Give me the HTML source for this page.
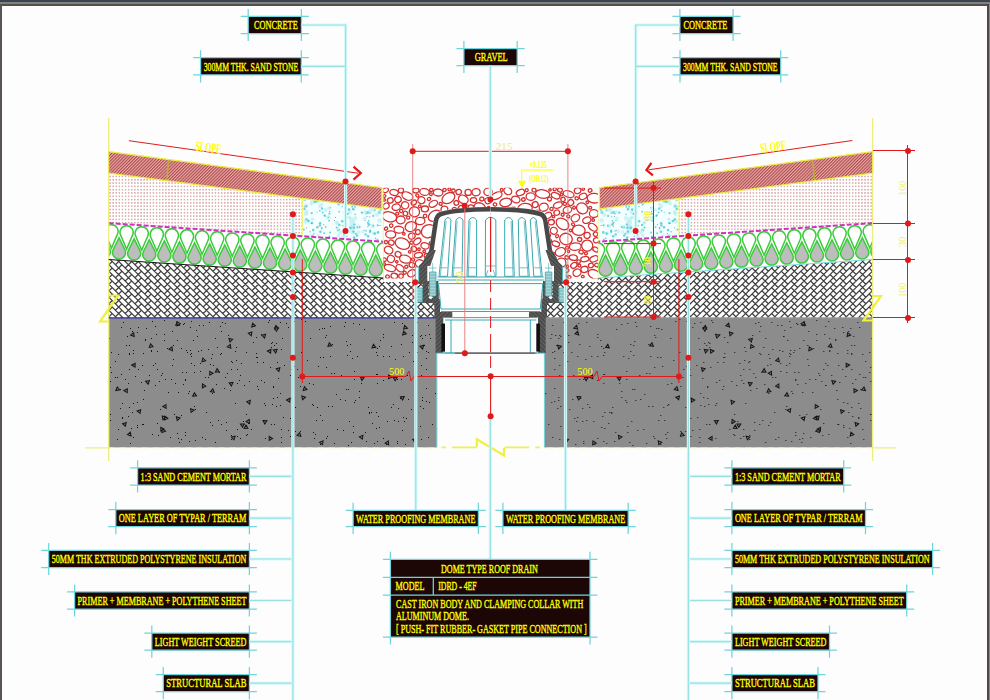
<!DOCTYPE html>
<html><head><meta charset="utf-8"><style>
html,body{margin:0;padding:0;background:#fff;}
svg{display:block;}
text{font-family:"Liberation Serif",serif;}
</style></head><body>
<svg width="990" height="700" viewBox="0 0 990 700">
<defs>
<pattern id="ss" width="2.2" height="2.2" patternUnits="userSpaceOnUse" patternTransform="rotate(-45)"><rect width="2.2" height="2.2" fill="#eeaaaa"/><rect width="2.2" height="1.1" fill="#aa4c4c"/></pattern>
<pattern id="rd" width="3.1" height="3.3" patternUnits="userSpaceOnUse"><rect width="3.1" height="3.3" fill="#fff"/><rect x="1" y="1" width="1.15" height="1.15" fill="#a84040" opacity="0.8"/></pattern>
<pattern id="bk" width="13.8" height="13.8" patternUnits="userSpaceOnUse" patternTransform="rotate(45)"><rect width="13.8" height="13.8" fill="#fff"/><path d="M0 0.5H13.8M0 5.1H13.8M0 9.7H13.8M0.5 0.5V5.1M5.1 0.5V5.1M5.1 5.1V9.7M9.7 5.1V9.7M9.7 9.7V13.8M0.5 9.7V13.8" stroke="#404040" stroke-width="0.9"/></pattern>
<pattern id="dk" width="3" height="3" patternUnits="userSpaceOnUse" patternTransform="rotate(-45)"><rect width="3" height="3" fill="#4a4a4a"/><rect width="3" height="0.8" fill="#6a6a6a"/></pattern>
</defs>
<rect x="0" y="0" width="990" height="700" fill="#fdfdfd"/>
<g id="half"><rect x="108.7" y="317.8" width="328.2" height="129.6" fill="#8c8c8c"/><rect x="215" y="338" width="1" height="1" fill="#151515"/><rect x="322" y="328" width="1" height="1" fill="#151515"/><rect x="284" y="365" width="1" height="1" fill="#151515"/><rect x="128" y="383" width="1" height="1" fill="#151515"/><rect x="121" y="374" width="1" height="1" fill="#151515"/><rect x="132" y="331" width="1" height="1" fill="#151515"/><rect x="248" y="423" width="1" height="1" fill="#151515"/><rect x="150" y="347" width="1" height="1" fill="#151515"/><rect x="314" y="438" width="1" height="1" fill="#151515"/><rect x="297" y="369" width="1" height="1" fill="#151515"/><rect x="428" y="325" width="1" height="1" fill="#151515"/><rect x="389" y="356" width="1" height="1" fill="#151515"/><rect x="156" y="334" width="1" height="1" fill="#151515"/><rect x="210" y="422" width="1" height="1" fill="#151515"/><rect x="168" y="392" width="1" height="1" fill="#151515"/><rect x="318" y="366" width="1" height="1" fill="#151515"/><rect x="288" y="327" width="1" height="1" fill="#151515"/><rect x="129" y="345" width="1" height="1" fill="#151515"/><rect x="331" y="373" width="1" height="1" fill="#151515"/><rect x="212" y="393" width="1" height="1" fill="#151515"/><rect x="257" y="357" width="1" height="1" fill="#151515"/><rect x="368" y="407" width="1" height="1" fill="#151515"/><rect x="189" y="391" width="1" height="1" fill="#151515"/><rect x="281" y="429" width="1" height="1" fill="#151515"/><rect x="347" y="355" width="1" height="1" fill="#151515"/><rect x="429" y="334" width="1" height="1" fill="#151515"/><rect x="246" y="414" width="1" height="1" fill="#151515"/><rect x="159" y="381" width="1" height="1" fill="#151515"/><rect x="122" y="403" width="1" height="1" fill="#151515"/><rect x="359" y="391" width="1" height="1" fill="#151515"/><rect x="395" y="359" width="1" height="1" fill="#151515"/><rect x="336" y="394" width="1" height="1" fill="#151515"/><rect x="298" y="377" width="1" height="1" fill="#151515"/><rect x="383" y="438" width="1" height="1" fill="#151515"/><rect x="264" y="403" width="1" height="1" fill="#151515"/><rect x="129" y="407" width="1" height="1" fill="#151515"/><rect x="320" y="444" width="1" height="1" fill="#151515"/><rect x="377" y="355" width="1" height="1" fill="#151515"/><rect x="235" y="403" width="1" height="1" fill="#151515"/><rect x="117" y="377" width="1" height="1" fill="#151515"/><rect x="164" y="334" width="1" height="1" fill="#151515"/><rect x="128" y="416" width="1" height="1" fill="#151515"/><rect x="151" y="350" width="1" height="1" fill="#151515"/><rect x="237" y="429" width="1" height="1" fill="#151515"/><rect x="135" y="376" width="1" height="1" fill="#151515"/><rect x="288" y="430" width="1" height="1" fill="#151515"/><rect x="376" y="428" width="1" height="1" fill="#151515"/><rect x="200" y="371" width="1" height="1" fill="#151515"/><rect x="226" y="430" width="1" height="1" fill="#151515"/><rect x="422" y="338" width="1" height="1" fill="#151515"/><rect x="167" y="348" width="1" height="1" fill="#151515"/><rect x="185" y="380" width="1" height="1" fill="#151515"/><rect x="301" y="352" width="1" height="1" fill="#151515"/><rect x="111" y="372" width="1" height="1" fill="#151515"/><rect x="230" y="390" width="1" height="1" fill="#151515"/><rect x="420" y="406" width="1" height="1" fill="#151515"/><rect x="277" y="397" width="1" height="1" fill="#151515"/><rect x="330" y="326" width="1" height="1" fill="#151515"/><rect x="403" y="417" width="1" height="1" fill="#151515"/><rect x="394" y="420" width="1" height="1" fill="#151515"/><rect x="237" y="369" width="1" height="1" fill="#151515"/><rect x="143" y="399" width="1" height="1" fill="#151515"/><rect x="130" y="328" width="1" height="1" fill="#151515"/><rect x="177" y="340" width="1" height="1" fill="#151515"/><rect x="220" y="326" width="1" height="1" fill="#151515"/><rect x="109" y="338" width="1" height="1" fill="#151515"/><rect x="142" y="365" width="1" height="1" fill="#151515"/><rect x="118" y="429" width="1" height="1" fill="#151515"/><rect x="310" y="338" width="1" height="1" fill="#151515"/><rect x="191" y="363" width="1" height="1" fill="#151515"/><rect x="228" y="335" width="1" height="1" fill="#151515"/><rect x="386" y="444" width="1" height="1" fill="#151515"/><rect x="261" y="380" width="1" height="1" fill="#151515"/><rect x="137" y="332" width="1" height="1" fill="#151515"/><rect x="221" y="353" width="1" height="1" fill="#151515"/><rect x="380" y="340" width="1" height="1" fill="#151515"/><rect x="117" y="439" width="1" height="1" fill="#151515"/><rect x="282" y="338" width="1" height="1" fill="#151515"/><rect x="286" y="323" width="1" height="1" fill="#151515"/><rect x="281" y="442" width="1" height="1" fill="#151515"/><rect x="391" y="407" width="1" height="1" fill="#151515"/><rect x="194" y="365" width="1" height="1" fill="#151515"/><rect x="164" y="416" width="1" height="1" fill="#151515"/><rect x="283" y="417" width="1" height="1" fill="#151515"/><rect x="217" y="347" width="1" height="1" fill="#151515"/><rect x="374" y="443" width="1" height="1" fill="#151515"/><rect x="387" y="421" width="1" height="1" fill="#151515"/><rect x="376" y="412" width="1" height="1" fill="#151515"/><rect x="183" y="384" width="1" height="1" fill="#151515"/><rect x="225" y="323" width="1" height="1" fill="#151515"/><rect x="118" y="354" width="1" height="1" fill="#151515"/><rect x="194" y="406" width="1" height="1" fill="#151515"/><rect x="421" y="375" width="1" height="1" fill="#151515"/><rect x="415" y="443" width="1" height="1" fill="#151515"/><rect x="421" y="365" width="1" height="1" fill="#151515"/><rect x="181" y="348" width="1" height="1" fill="#151515"/><rect x="173" y="345" width="1" height="1" fill="#151515"/><rect x="313" y="432" width="1" height="1" fill="#151515"/><rect x="383" y="380" width="1" height="1" fill="#151515"/><rect x="322" y="420" width="1" height="1" fill="#151515"/><rect x="137" y="402" width="1" height="1" fill="#151515"/><rect x="406" y="418" width="1" height="1" fill="#151515"/><rect x="354" y="379" width="1" height="1" fill="#151515"/><rect x="167" y="418" width="1" height="1" fill="#151515"/><rect x="218" y="420" width="1" height="1" fill="#151515"/><rect x="426" y="369" width="1" height="1" fill="#151515"/><rect x="240" y="438" width="1" height="1" fill="#151515"/><rect x="346" y="341" width="1" height="1" fill="#151515"/><rect x="151" y="338" width="1" height="1" fill="#151515"/><rect x="404" y="421" width="1" height="1" fill="#151515"/><rect x="157" y="423" width="1" height="1" fill="#151515"/><rect x="429" y="402" width="1" height="1" fill="#151515"/><rect x="224" y="388" width="1" height="1" fill="#151515"/><rect x="152" y="321" width="1" height="1" fill="#151515"/><rect x="426" y="401" width="1" height="1" fill="#151515"/><rect x="281" y="437" width="1" height="1" fill="#151515"/><rect x="251" y="429" width="1" height="1" fill="#151515"/><rect x="379" y="346" width="1" height="1" fill="#151515"/><rect x="191" y="356" width="1" height="1" fill="#151515"/><rect x="188" y="393" width="1" height="1" fill="#151515"/><rect x="194" y="372" width="1" height="1" fill="#151515"/><rect x="152" y="434" width="1" height="1" fill="#151515"/><rect x="225" y="377" width="1" height="1" fill="#151515"/><rect x="299" y="433" width="1" height="1" fill="#151515"/><rect x="246" y="435" width="1" height="1" fill="#151515"/><rect x="273" y="386" width="1" height="1" fill="#151515"/><rect x="280" y="322" width="1" height="1" fill="#151515"/><rect x="253" y="342" width="1" height="1" fill="#151515"/><rect x="110" y="420" width="1" height="1" fill="#151515"/><rect x="165" y="379" width="1" height="1" fill="#151515"/><rect x="346" y="389" width="1" height="1" fill="#151515"/><rect x="216" y="384" width="1" height="1" fill="#151515"/><rect x="290" y="418" width="1" height="1" fill="#151515"/><rect x="144" y="390" width="1" height="1" fill="#151515"/><rect x="190" y="354" width="1" height="1" fill="#151515"/><rect x="361" y="383" width="1" height="1" fill="#151515"/><rect x="292" y="415" width="1" height="1" fill="#151515"/><rect x="407" y="375" width="1" height="1" fill="#151515"/><rect x="309" y="383" width="1" height="1" fill="#151515"/><rect x="276" y="406" width="1" height="1" fill="#151515"/><rect x="257" y="386" width="1" height="1" fill="#151515"/><rect x="265" y="438" width="1" height="1" fill="#151515"/><rect x="337" y="429" width="1" height="1" fill="#151515"/><rect x="417" y="352" width="1" height="1" fill="#151515"/><rect x="292" y="438" width="1" height="1" fill="#151515"/><rect x="383" y="337" width="1" height="1" fill="#151515"/><rect x="149" y="375" width="1" height="1" fill="#151515"/><rect x="133" y="350" width="1" height="1" fill="#151515"/><rect x="133" y="403" width="1" height="1" fill="#151515"/><rect x="365" y="432" width="1" height="1" fill="#151515"/><rect x="160" y="409" width="1" height="1" fill="#151515"/><rect x="325" y="337" width="1" height="1" fill="#151515"/><rect x="397" y="441" width="1" height="1" fill="#151515"/><rect x="181" y="439" width="1" height="1" fill="#151515"/><rect x="239" y="380" width="1" height="1" fill="#151515"/><rect x="432" y="424" width="1" height="1" fill="#151515"/><rect x="162" y="373" width="1" height="1" fill="#151515"/><rect x="277" y="362" width="1" height="1" fill="#151515"/><rect x="173" y="359" width="1" height="1" fill="#151515"/><rect x="345" y="322" width="1" height="1" fill="#151515"/><rect x="290" y="375" width="1" height="1" fill="#151515"/><rect x="115" y="361" width="1" height="1" fill="#151515"/><rect x="313" y="384" width="1" height="1" fill="#151515"/><rect x="130" y="443" width="1" height="1" fill="#151515"/><rect x="366" y="441" width="1" height="1" fill="#151515"/><rect x="143" y="353" width="1" height="1" fill="#151515"/><rect x="122" y="417" width="1" height="1" fill="#151515"/><rect x="197" y="336" width="1" height="1" fill="#151515"/><rect x="247" y="434" width="1" height="1" fill="#151515"/><rect x="376" y="352" width="1" height="1" fill="#151515"/><rect x="158" y="435" width="1" height="1" fill="#151515"/><rect x="295" y="407" width="1" height="1" fill="#151515"/><rect x="138" y="327" width="1" height="1" fill="#151515"/><rect x="334" y="373" width="1" height="1" fill="#151515"/><rect x="133" y="437" width="1" height="1" fill="#151515"/><rect x="316" y="420" width="1" height="1" fill="#151515"/><rect x="137" y="427" width="1" height="1" fill="#151515"/><rect x="131" y="428" width="1" height="1" fill="#151515"/><rect x="257" y="362" width="1" height="1" fill="#151515"/><rect x="290" y="436" width="1" height="1" fill="#151515"/><rect x="197" y="336" width="1" height="1" fill="#151515"/><rect x="281" y="349" width="1" height="1" fill="#151515"/><rect x="145" y="340" width="1" height="1" fill="#151515"/><rect x="126" y="345" width="1" height="1" fill="#151515"/><rect x="211" y="358" width="1" height="1" fill="#151515"/><rect x="357" y="356" width="1" height="1" fill="#151515"/><rect x="272" y="342" width="1" height="1" fill="#151515"/><rect x="222" y="322" width="1" height="1" fill="#151515"/><rect x="191" y="321" width="1" height="1" fill="#151515"/><rect x="348" y="389" width="1" height="1" fill="#151515"/><rect x="171" y="379" width="1" height="1" fill="#151515"/><rect x="414" y="333" width="1" height="1" fill="#151515"/><rect x="376" y="374" width="1" height="1" fill="#151515"/><rect x="271" y="424" width="1" height="1" fill="#151515"/><rect x="237" y="383" width="1" height="1" fill="#151515"/><rect x="334" y="443" width="1" height="1" fill="#151515"/><rect x="221" y="424" width="1" height="1" fill="#151515"/><rect x="340" y="399" width="1" height="1" fill="#151515"/><rect x="241" y="363" width="1" height="1" fill="#151515"/><rect x="127" y="336" width="1" height="1" fill="#151515"/><rect x="132" y="412" width="1" height="1" fill="#151515"/><rect x="193" y="340" width="1" height="1" fill="#151515"/><rect x="137" y="425" width="1" height="1" fill="#151515"/><rect x="393" y="404" width="1" height="1" fill="#151515"/><rect x="201" y="350" width="1" height="1" fill="#151515"/><rect x="205" y="377" width="1" height="1" fill="#151515"/><rect x="161" y="375" width="1" height="1" fill="#151515"/><rect x="195" y="440" width="1" height="1" fill="#151515"/><rect x="426" y="388" width="1" height="1" fill="#151515"/><rect x="189" y="441" width="1" height="1" fill="#151515"/><rect x="210" y="364" width="1" height="1" fill="#151515"/><rect x="110" y="367" width="1" height="1" fill="#151515"/><rect x="264" y="382" width="1" height="1" fill="#151515"/><rect x="175" y="383" width="1" height="1" fill="#151515"/><rect x="111" y="352" width="1" height="1" fill="#151515"/><rect x="138" y="369" width="1" height="1" fill="#151515"/><rect x="123" y="322" width="1" height="1" fill="#151515"/><rect x="208" y="349" width="1" height="1" fill="#151515"/><rect x="300" y="386" width="1" height="1" fill="#151515"/><rect x="354" y="402" width="1" height="1" fill="#151515"/><rect x="343" y="430" width="1" height="1" fill="#151515"/><rect x="236" y="360" width="1" height="1" fill="#151515"/><rect x="430" y="338" width="1" height="1" fill="#151515"/><rect x="345" y="400" width="1" height="1" fill="#151515"/><rect x="123" y="424" width="1" height="1" fill="#151515"/><rect x="400" y="398" width="1" height="1" fill="#151515"/><rect x="349" y="421" width="1" height="1" fill="#151515"/><rect x="155" y="385" width="1" height="1" fill="#151515"/><rect x="274" y="424" width="1" height="1" fill="#151515"/><rect x="372" y="423" width="1" height="1" fill="#151515"/><rect x="300" y="431" width="1" height="1" fill="#151515"/><rect x="332" y="406" width="1" height="1" fill="#151515"/><rect x="184" y="323" width="1" height="1" fill="#151515"/><rect x="153" y="365" width="1" height="1" fill="#151515"/><rect x="143" y="424" width="1" height="1" fill="#151515"/><rect x="291" y="398" width="1" height="1" fill="#151515"/><rect x="313" y="405" width="1" height="1" fill="#151515"/><rect x="269" y="320" width="1" height="1" fill="#151515"/><rect x="369" y="413" width="1" height="1" fill="#151515"/><rect x="273" y="387" width="1" height="1" fill="#151515"/><rect x="324" y="328" width="1" height="1" fill="#151515"/><rect x="350" y="351" width="1" height="1" fill="#151515"/><rect x="133" y="353" width="1" height="1" fill="#151515"/><rect x="347" y="345" width="1" height="1" fill="#151515"/><rect x="351" y="442" width="1" height="1" fill="#151515"/><rect x="270" y="367" width="1" height="1" fill="#151515"/><rect x="265" y="405" width="1" height="1" fill="#151515"/><rect x="359" y="397" width="1" height="1" fill="#151515"/><rect x="319" y="329" width="1" height="1" fill="#151515"/><rect x="157" y="351" width="1" height="1" fill="#151515"/><rect x="352" y="358" width="1" height="1" fill="#151515"/><rect x="294" y="321" width="1" height="1" fill="#151515"/><rect x="129" y="353" width="1" height="1" fill="#151515"/><rect x="328" y="406" width="1" height="1" fill="#151515"/><rect x="330" y="356" width="1" height="1" fill="#151515"/><rect x="278" y="378" width="1" height="1" fill="#151515"/><rect x="261" y="334" width="1" height="1" fill="#151515"/><rect x="401" y="344" width="1" height="1" fill="#151515"/><rect x="428" y="437" width="1" height="1" fill="#151515"/><rect x="115" y="377" width="1" height="1" fill="#151515"/><rect x="377" y="441" width="1" height="1" fill="#151515"/><rect x="256" y="353" width="1" height="1" fill="#151515"/><rect x="178" y="438" width="1" height="1" fill="#151515"/><rect x="178" y="392" width="1" height="1" fill="#151515"/><rect x="155" y="385" width="1" height="1" fill="#151515"/><rect x="420" y="336" width="1" height="1" fill="#151515"/><rect x="377" y="383" width="1" height="1" fill="#151515"/><rect x="398" y="408" width="1" height="1" fill="#151515"/><rect x="185" y="432" width="1" height="1" fill="#151515"/><rect x="268" y="322" width="1" height="1" fill="#151515"/><rect x="110" y="381" width="1" height="1" fill="#151515"/><rect x="256" y="357" width="1" height="1" fill="#151515"/><rect x="155" y="363" width="1" height="1" fill="#151515"/><rect x="212" y="425" width="1" height="1" fill="#151515"/><rect x="110" y="414" width="1" height="1" fill="#151515"/><rect x="383" y="334" width="1" height="1" fill="#151515"/><rect x="411" y="409" width="1" height="1" fill="#151515"/><rect x="403" y="356" width="1" height="1" fill="#151515"/><rect x="231" y="369" width="1" height="1" fill="#151515"/><rect x="435" y="393" width="1" height="1" fill="#151515"/><rect x="227" y="373" width="1" height="1" fill="#151515"/><rect x="199" y="325" width="1" height="1" fill="#151515"/><rect x="142" y="424" width="1" height="1" fill="#151515"/><rect x="202" y="437" width="1" height="1" fill="#151515"/><rect x="191" y="353" width="1" height="1" fill="#151515"/><rect x="276" y="343" width="1" height="1" fill="#151515"/><rect x="231" y="439" width="1" height="1" fill="#151515"/><rect x="398" y="421" width="1" height="1" fill="#151515"/><rect x="315" y="434" width="1" height="1" fill="#151515"/><rect x="416" y="388" width="1" height="1" fill="#151515"/><rect x="344" y="326" width="1" height="1" fill="#151515"/><rect x="348" y="376" width="1" height="1" fill="#151515"/><rect x="355" y="400" width="1" height="1" fill="#151515"/><rect x="203" y="325" width="1" height="1" fill="#151515"/><rect x="412" y="335" width="1" height="1" fill="#151515"/><rect x="263" y="362" width="1" height="1" fill="#151515"/><rect x="206" y="412" width="1" height="1" fill="#151515"/><rect x="428" y="352" width="1" height="1" fill="#151515"/><rect x="323" y="357" width="1" height="1" fill="#151515"/><rect x="291" y="369" width="1" height="1" fill="#151515"/><rect x="164" y="340" width="1" height="1" fill="#151515"/><rect x="177" y="433" width="1" height="1" fill="#151515"/><rect x="271" y="347" width="1" height="1" fill="#151515"/><rect x="405" y="444" width="1" height="1" fill="#151515"/><rect x="256" y="337" width="1" height="1" fill="#151515"/><rect x="172" y="331" width="1" height="1" fill="#151515"/><rect x="221" y="331" width="1" height="1" fill="#151515"/><rect x="187" y="352" width="1" height="1" fill="#151515"/><rect x="295" y="431" width="1" height="1" fill="#151515"/><rect x="354" y="371" width="1" height="1" fill="#151515"/><rect x="244" y="385" width="1" height="1" fill="#151515"/><rect x="232" y="362" width="1" height="1" fill="#151515"/><rect x="129" y="354" width="1" height="1" fill="#151515"/><rect x="425" y="335" width="1" height="1" fill="#151515"/><rect x="273" y="398" width="1" height="1" fill="#151515"/><rect x="391" y="346" width="1" height="1" fill="#151515"/><rect x="198" y="351" width="1" height="1" fill="#151515"/><rect x="240" y="375" width="1" height="1" fill="#151515"/><rect x="420" y="426" width="1" height="1" fill="#151515"/><rect x="394" y="322" width="1" height="1" fill="#151515"/><rect x="120" y="408" width="1" height="1" fill="#151515"/><rect x="401" y="379" width="1" height="1" fill="#151515"/><rect x="301" y="319" width="1" height="1" fill="#151515"/><rect x="237" y="436" width="1" height="1" fill="#151515"/><rect x="379" y="427" width="1" height="1" fill="#151515"/><rect x="426" y="351" width="1" height="1" fill="#151515"/><rect x="145" y="339" width="1" height="1" fill="#151515"/><rect x="280" y="405" width="1" height="1" fill="#151515"/><rect x="416" y="410" width="1" height="1" fill="#151515"/><rect x="320" y="415" width="1" height="1" fill="#151515"/><rect x="258" y="389" width="1" height="1" fill="#151515"/><rect x="122" y="418" width="1" height="1" fill="#151515"/><rect x="185" y="435" width="1" height="1" fill="#151515"/><rect x="320" y="357" width="1" height="1" fill="#151515"/><rect x="151" y="351" width="1" height="1" fill="#151515"/><rect x="317" y="407" width="1" height="1" fill="#151515"/><rect x="146" y="328" width="1" height="1" fill="#151515"/><rect x="280" y="393" width="1" height="1" fill="#151515"/><rect x="236" y="347" width="1" height="1" fill="#151515"/><rect x="305" y="321" width="1" height="1" fill="#151515"/><rect x="208" y="377" width="1" height="1" fill="#151515"/><rect x="422" y="400" width="1" height="1" fill="#151515"/><rect x="397" y="379" width="1" height="1" fill="#151515"/><rect x="186" y="350" width="1" height="1" fill="#151515"/><rect x="423" y="408" width="1" height="1" fill="#151515"/><rect x="209" y="322" width="1" height="1" fill="#151515"/><rect x="272" y="404" width="1" height="1" fill="#151515"/><rect x="246" y="352" width="1" height="1" fill="#151515"/><rect x="327" y="436" width="1" height="1" fill="#151515"/><rect x="183" y="324" width="1" height="1" fill="#151515"/><rect x="219" y="372" width="1" height="1" fill="#151515"/><rect x="332" y="344" width="1" height="1" fill="#151515"/><rect x="369" y="412" width="1" height="1" fill="#151515"/><rect x="274" y="345" width="1" height="1" fill="#151515"/><rect x="426" y="358" width="1" height="1" fill="#151515"/><rect x="377" y="348" width="1" height="1" fill="#151515"/><rect x="181" y="415" width="1" height="1" fill="#151515"/><rect x="205" y="439" width="1" height="1" fill="#151515"/><rect x="271" y="343" width="1" height="1" fill="#151515"/><rect x="182" y="372" width="1" height="1" fill="#151515"/><rect x="326" y="438" width="1" height="1" fill="#151515"/><rect x="157" y="369" width="1" height="1" fill="#151515"/><rect x="179" y="442" width="1" height="1" fill="#151515"/><rect x="155" y="326" width="1" height="1" fill="#151515"/><rect x="129" y="369" width="1" height="1" fill="#151515"/><rect x="402" y="430" width="1" height="1" fill="#151515"/><rect x="348" y="445" width="1" height="1" fill="#151515"/><rect x="413" y="361" width="1" height="1" fill="#151515"/><rect x="170" y="437" width="1" height="1" fill="#151515"/><rect x="353" y="323" width="1" height="1" fill="#151515"/><rect x="326" y="367" width="1" height="1" fill="#151515"/><rect x="231" y="361" width="1" height="1" fill="#151515"/><rect x="164" y="320" width="1" height="1" fill="#151515"/><rect x="200" y="363" width="1" height="1" fill="#151515"/><rect x="421" y="335" width="1" height="1" fill="#151515"/><rect x="424" y="345" width="1" height="1" fill="#151515"/><rect x="226" y="422" width="1" height="1" fill="#151515"/><rect x="377" y="374" width="1" height="1" fill="#151515"/><rect x="125" y="379" width="1" height="1" fill="#151515"/><rect x="231" y="435" width="1" height="1" fill="#151515"/><rect x="172" y="365" width="1" height="1" fill="#151515"/><rect x="402" y="323" width="1" height="1" fill="#151515"/><rect x="243" y="421" width="1" height="1" fill="#151515"/><rect x="359" y="324" width="1" height="1" fill="#151515"/><rect x="121" y="327" width="1" height="1" fill="#151515"/><rect x="409" y="352" width="1" height="1" fill="#151515"/><rect x="353" y="432" width="1" height="1" fill="#151515"/><rect x="220" y="354" width="1" height="1" fill="#151515"/><rect x="422" y="397" width="1" height="1" fill="#151515"/><rect x="195" y="409" width="1" height="1" fill="#151515"/><rect x="212" y="354" width="1" height="1" fill="#151515"/><rect x="110" y="414" width="1" height="1" fill="#151515"/><rect x="408" y="399" width="1" height="1" fill="#151515"/><rect x="417" y="322" width="1" height="1" fill="#151515"/><rect x="185" y="379" width="1" height="1" fill="#151515"/><rect x="421" y="439" width="1" height="1" fill="#151515"/><rect x="235" y="351" width="1" height="1" fill="#151515"/><rect x="249" y="381" width="1" height="1" fill="#151515"/><rect x="412" y="342" width="1" height="1" fill="#151515"/><rect x="371" y="412" width="1" height="1" fill="#151515"/><rect x="378" y="416" width="1" height="1" fill="#151515"/><rect x="307" y="360" width="1" height="1" fill="#151515"/><rect x="213" y="365" width="1" height="1" fill="#151515"/><rect x="364" y="329" width="1" height="1" fill="#151515"/><rect x="174" y="414" width="1" height="1" fill="#151515"/><rect x="190" y="327" width="1" height="1" fill="#151515"/><rect x="120" y="389" width="1" height="1" fill="#151515"/><rect x="215" y="442" width="1" height="1" fill="#151515"/><rect x="397" y="443" width="1" height="1" fill="#151515"/><rect x="196" y="330" width="1" height="1" fill="#151515"/><rect x="141" y="382" width="1" height="1" fill="#151515"/><rect x="341" y="375" width="1" height="1" fill="#151515"/><rect x="186" y="372" width="1" height="1" fill="#151515"/><rect x="312" y="404" width="1" height="1" fill="#151515"/><rect x="353" y="426" width="1" height="1" fill="#151515"/><rect x="326" y="335" width="1" height="1" fill="#151515"/><rect x="383" y="356" width="1" height="1" fill="#151515"/><rect x="294" y="366" width="1" height="1" fill="#151515"/><rect x="350" y="344" width="1" height="1" fill="#151515"/><rect x="190" y="350" width="1" height="1" fill="#151515"/><path d="M161.8 427.4l1.9 3.4h-3.8z" fill="#7a7a7a" stroke="#151515" stroke-width="1" transform="rotate(208 161.8 429.4)"/><path d="M217.2 368.6l1.9 3.4h-3.8z" fill="#7a7a7a" stroke="#151515" stroke-width="1" transform="rotate(357 217.2 370.6)"/><path d="M275.1 348.7l1.9 3.4h-3.8z" fill="#7a7a7a" stroke="#151515" stroke-width="1" transform="rotate(291 275.1 350.7)"/><path d="M321.9 440.3l1.9 3.4h-3.8z" fill="#7a7a7a" stroke="#151515" stroke-width="1" transform="rotate(37 321.9 442.3)"/><path d="M264.7 419.6l1.9 3.4h-3.8z" fill="#7a7a7a" stroke="#151515" stroke-width="1" transform="rotate(303 264.7 421.6)"/><path d="M405.5 325.7l1.9 3.4h-3.8z" fill="#7a7a7a" stroke="#151515" stroke-width="1" transform="rotate(106 405.5 327.7)"/><path d="M150.9 343.7l1.9 3.4h-3.8z" fill="#7a7a7a" stroke="#151515" stroke-width="1" transform="rotate(350 150.9 345.7)"/><path d="M299.4 433.0l1.9 3.4h-3.8z" fill="#7a7a7a" stroke="#151515" stroke-width="1" transform="rotate(134 299.4 435.0)"/><path d="M390.0 375.0l1.9 3.4h-3.8z" fill="#7a7a7a" stroke="#151515" stroke-width="1" transform="rotate(94 390.0 377.0)"/><path d="M361.7 434.9l1.9 3.4h-3.8z" fill="#7a7a7a" stroke="#151515" stroke-width="1" transform="rotate(38 361.7 436.9)"/><path d="M303.6 395.6l1.9 3.4h-3.8z" fill="#7a7a7a" stroke="#151515" stroke-width="1" transform="rotate(78 303.6 397.6)"/><path d="M230.8 337.8l1.9 3.4h-3.8z" fill="#7a7a7a" stroke="#151515" stroke-width="1" transform="rotate(73 230.8 339.8)"/><path d="M194.3 393.1l1.9 3.4h-3.8z" fill="#7a7a7a" stroke="#151515" stroke-width="1" transform="rotate(235 194.3 395.1)"/><path d="M177.8 322.2l1.9 3.4h-3.8z" fill="#7a7a7a" stroke="#151515" stroke-width="1" transform="rotate(118 177.8 324.2)"/><path d="M329.9 343.1l1.9 3.4h-3.8z" fill="#7a7a7a" stroke="#151515" stroke-width="1" transform="rotate(112 329.9 345.1)"/><path d="M177.8 416.7l1.9 3.4h-3.8z" fill="#7a7a7a" stroke="#151515" stroke-width="1" transform="rotate(197 177.8 418.7)"/><path d="M133.0 333.0l1.9 3.4h-3.8z" fill="#7a7a7a" stroke="#151515" stroke-width="1" transform="rotate(142 133.0 335.0)"/><path d="M288.9 397.9l1.9 3.4h-3.8z" fill="#7a7a7a" stroke="#151515" stroke-width="1" transform="rotate(33 288.9 399.9)"/><path d="M165.1 404.7l1.9 3.4h-3.8z" fill="#7a7a7a" stroke="#151515" stroke-width="1" transform="rotate(148 165.1 406.7)"/><path d="M203.4 357.9l1.9 3.4h-3.8z" fill="#7a7a7a" stroke="#151515" stroke-width="1" transform="rotate(343 203.4 359.9)"/><path d="M212.7 389.1l1.9 3.4h-3.8z" fill="#7a7a7a" stroke="#151515" stroke-width="1" transform="rotate(129 212.7 391.1)"/><path d="M246.0 425.0l1.9 3.4h-3.8z" fill="#7a7a7a" stroke="#151515" stroke-width="1" transform="rotate(359 246.0 427.0)"/><path d="M229.2 344.6l1.9 3.4h-3.8z" fill="#7a7a7a" stroke="#151515" stroke-width="1" transform="rotate(262 229.2 346.6)"/><path d="M177.9 321.5l1.9 3.4h-3.8z" fill="#7a7a7a" stroke="#151515" stroke-width="1" transform="rotate(325 177.9 323.5)"/><path d="M248.4 419.7l1.9 3.4h-3.8z" fill="#7a7a7a" stroke="#151515" stroke-width="1" transform="rotate(146 248.4 421.7)"/><path d="M395.4 376.4l1.9 3.4h-3.8z" fill="#7a7a7a" stroke="#151515" stroke-width="1" transform="rotate(59 395.4 378.4)"/><path d="M117.4 387.3l1.9 3.4h-3.8z" fill="#7a7a7a" stroke="#151515" stroke-width="1" transform="rotate(231 117.4 389.3)"/><path d="M404.0 331.5l1.9 3.4h-3.8z" fill="#7a7a7a" stroke="#151515" stroke-width="1" transform="rotate(224 404.0 333.5)"/><path d="M231.4 381.6l1.9 3.4h-3.8z" fill="#7a7a7a" stroke="#151515" stroke-width="1" transform="rotate(53 231.4 383.6)"/><path d="M203.4 383.7l1.9 3.4h-3.8z" fill="#7a7a7a" stroke="#151515" stroke-width="1" transform="rotate(333 203.4 385.7)"/><path d="M147.5 380.0l1.9 3.4h-3.8z" fill="#7a7a7a" stroke="#151515" stroke-width="1" transform="rotate(290 147.5 382.0)"/><path d="M422.3 344.6l1.9 3.4h-3.8z" fill="#7a7a7a" stroke="#151515" stroke-width="1" transform="rotate(46 422.3 346.6)"/><path d="M414.7 438.5l1.9 3.4h-3.8z" fill="#7a7a7a" stroke="#151515" stroke-width="1" transform="rotate(174 414.7 440.5)"/><path d="M129.8 432.5l1.9 3.4h-3.8z" fill="#7a7a7a" stroke="#151515" stroke-width="1" transform="rotate(140 129.8 434.5)"/><path d="M402.2 395.6l1.9 3.4h-3.8z" fill="#7a7a7a" stroke="#151515" stroke-width="1" transform="rotate(297 402.2 397.6)"/><path d="M164.0 415.6l1.9 3.4h-3.8z" fill="#7a7a7a" stroke="#151515" stroke-width="1" transform="rotate(80 164.0 417.6)"/><path d="M242.2 422.9l1.9 3.4h-3.8z" fill="#7a7a7a" stroke="#151515" stroke-width="1" transform="rotate(299 242.2 424.9)"/><path d="M171.3 347.1l1.9 3.4h-3.8z" fill="#7a7a7a" stroke="#151515" stroke-width="1" transform="rotate(144 171.3 349.1)"/><path d="M278.5 367.1l1.9 3.4h-3.8z" fill="#7a7a7a" stroke="#151515" stroke-width="1" transform="rotate(44 278.5 369.1)"/><path d="M191.8 408.2l1.9 3.4h-3.8z" fill="#7a7a7a" stroke="#151515" stroke-width="1" transform="rotate(323 191.8 410.2)"/><path d="M125.9 388.6l1.9 3.4h-3.8z" fill="#7a7a7a" stroke="#151515" stroke-width="1" transform="rotate(273 125.9 390.6)"/><path d="M124.9 421.9l1.9 3.4h-3.8z" fill="#7a7a7a" stroke="#151515" stroke-width="1" transform="rotate(42 124.9 423.9)"/><path d="M304.7 387.1l1.9 3.4h-3.8z" fill="#7a7a7a" stroke="#151515" stroke-width="1" transform="rotate(226 304.7 389.1)"/><path d="M210.7 371.5l1.9 3.4h-3.8z" fill="#7a7a7a" stroke="#151515" stroke-width="1" transform="rotate(210 210.7 373.5)"/><path d="M249.0 400.3l1.9 3.4h-3.8z" fill="#7a7a7a" stroke="#151515" stroke-width="1" transform="rotate(161 249.0 402.3)"/><path d="M253.1 323.6l1.9 3.4h-3.8z" fill="#7a7a7a" stroke="#151515" stroke-width="1" transform="rotate(223 253.1 325.6)"/><path d="M269.4 349.2l1.9 3.4h-3.8z" fill="#7a7a7a" stroke="#151515" stroke-width="1" transform="rotate(275 269.4 351.2)"/><path d="M362.4 376.1l1.9 3.4h-3.8z" fill="#7a7a7a" stroke="#151515" stroke-width="1" transform="rotate(65 362.4 378.1)"/><path d="M264.2 333.7l1.9 3.4h-3.8z" fill="#7a7a7a" stroke="#151515" stroke-width="1" transform="rotate(46 264.2 335.7)"/><path d="M250.6 331.9l1.9 3.4h-3.8z" fill="#7a7a7a" stroke="#151515" stroke-width="1" transform="rotate(159 250.6 333.9)"/><path d="M276.1 325.7l1.9 3.4h-3.8z" fill="#7a7a7a" stroke="#151515" stroke-width="1" transform="rotate(229 276.1 327.7)"/><path d="M139.0 409.3l1.9 3.4h-3.8z" fill="#7a7a7a" stroke="#151515" stroke-width="1" transform="rotate(280 139.0 411.3)"/><path d="M276.5 327.3l1.9 3.4h-3.8z" fill="#7a7a7a" stroke="#151515" stroke-width="1" transform="rotate(181 276.5 329.3)"/><path d="M233.7 435.5l1.9 3.4h-3.8z" fill="#7a7a7a" stroke="#151515" stroke-width="1" transform="rotate(49 233.7 437.5)"/><path d="M387.1 440.9l1.9 3.4h-3.8z" fill="#7a7a7a" stroke="#151515" stroke-width="1" transform="rotate(264 387.1 442.9)"/><path d="M373.7 344.2l1.9 3.4h-3.8z" fill="#7a7a7a" stroke="#151515" stroke-width="1" transform="rotate(353 373.7 346.2)"/><path d="M270.2 436.2l1.9 3.4h-3.8z" fill="#7a7a7a" stroke="#151515" stroke-width="1" transform="rotate(330 270.2 438.2)"/><path d="M165.6 415.9l1.9 3.4h-3.8z" fill="#7a7a7a" stroke="#151515" stroke-width="1" transform="rotate(335 165.6 417.9)"/><path d="M133.7 363.1l1.9 3.4h-3.8z" fill="#7a7a7a" stroke="#151515" stroke-width="1" transform="rotate(272 133.7 365.1)"/><path d="M163.5 428.9l1.9 3.4h-3.8z" fill="#7a7a7a" stroke="#151515" stroke-width="1" transform="rotate(99 163.5 430.9)"/><clipPath id="bkc"><path d="M108.7 259.5L383.4 278.0L383.4 282H437V317.8H108.7Z"/></clipPath><path d="M108.7 259.5L383.4 278.0L383.4 282H437V317.8H108.7Z" fill="#fff"/><path d="M40.70 255.0L105.70 320.0M47.20 255.0L112.20 320.0M53.70 255.0L118.70 320.0M60.20 255.0L125.20 320.0M66.70 255.0L131.70 320.0M73.20 255.0L138.20 320.0M79.70 255.0L144.70 320.0M86.20 255.0L151.20 320.0M92.70 255.0L157.70 320.0M99.20 255.0L164.20 320.0M105.70 255.0L170.70 320.0M112.20 255.0L177.20 320.0M118.70 255.0L183.70 320.0M125.20 255.0L190.20 320.0M131.70 255.0L196.70 320.0M138.20 255.0L203.20 320.0M144.70 255.0L209.70 320.0M151.20 255.0L216.20 320.0M157.70 255.0L222.70 320.0M164.20 255.0L229.20 320.0M170.70 255.0L235.70 320.0M177.20 255.0L242.20 320.0M183.70 255.0L248.70 320.0M190.20 255.0L255.20 320.0M196.70 255.0L261.70 320.0M203.20 255.0L268.20 320.0M209.70 255.0L274.70 320.0M216.20 255.0L281.20 320.0M222.70 255.0L287.70 320.0M229.20 255.0L294.20 320.0M235.70 255.0L300.70 320.0M242.20 255.0L307.20 320.0M248.70 255.0L313.70 320.0M255.20 255.0L320.20 320.0M261.70 255.0L326.70 320.0M268.20 255.0L333.20 320.0M274.70 255.0L339.70 320.0M281.20 255.0L346.20 320.0M287.70 255.0L352.70 320.0M294.20 255.0L359.20 320.0M300.70 255.0L365.70 320.0M307.20 255.0L372.20 320.0M313.70 255.0L378.70 320.0M320.20 255.0L385.20 320.0M326.70 255.0L391.70 320.0M333.20 255.0L398.20 320.0M339.70 255.0L404.70 320.0M346.20 255.0L411.20 320.0M352.70 255.0L417.70 320.0M359.20 255.0L424.20 320.0M365.70 255.0L430.70 320.0M372.20 255.0L437.20 320.0M378.70 255.0L443.70 320.0M385.20 255.0L450.20 320.0M391.70 255.0L456.70 320.0M398.20 255.0L463.20 320.0M404.70 255.0L469.70 320.0M411.20 255.0L476.20 320.0M417.70 255.0L482.70 320.0M424.20 255.0L489.20 320.0M430.70 255.0L495.70 320.0M437.20 255.0L502.20 320.0M76.45 284.25L79.70 281.00M79.70 281.00L82.95 277.75M86.20 274.50L89.45 271.25M89.45 271.25L92.70 268.00M95.95 264.75L99.20 261.50M99.20 261.50L102.45 258.25M105.70 255.00L108.95 251.75M76.45 290.75L79.70 287.50M79.70 287.50L82.95 284.25M86.20 281.00L89.45 277.75M89.45 277.75L92.70 274.50M95.95 271.25L99.20 268.00M99.20 268.00L102.45 264.75M105.70 261.50L108.95 258.25M108.95 258.25L112.20 255.00M79.70 294.00L82.95 290.75M86.20 287.50L89.45 284.25M89.45 284.25L92.70 281.00M95.95 277.75L99.20 274.50M99.20 274.50L102.45 271.25M105.70 268.00L108.95 264.75M108.95 264.75L112.20 261.50M115.45 258.25L118.70 255.00M118.70 255.00L121.95 251.75M86.20 294.00L89.45 290.75M89.45 290.75L92.70 287.50M95.95 284.25L99.20 281.00M99.20 281.00L102.45 277.75M105.70 274.50L108.95 271.25M108.95 271.25L112.20 268.00M115.45 264.75L118.70 261.50M118.70 261.50L121.95 258.25M125.20 255.00L128.45 251.75M86.20 300.50L89.45 297.25M89.45 297.25L92.70 294.00M95.95 290.75L99.20 287.50M99.20 287.50L102.45 284.25M105.70 281.00L108.95 277.75M108.95 277.75L112.20 274.50M115.45 271.25L118.70 268.00M118.70 268.00L121.95 264.75M125.20 261.50L128.45 258.25M128.45 258.25L131.70 255.00M89.45 303.75L92.70 300.50M95.95 297.25L99.20 294.00M99.20 294.00L102.45 290.75M105.70 287.50L108.95 284.25M108.95 284.25L112.20 281.00M115.45 277.75L118.70 274.50M118.70 274.50L121.95 271.25M125.20 268.00L128.45 264.75M128.45 264.75L131.70 261.50M134.95 258.25L138.20 255.00M138.20 255.00L141.45 251.75M95.95 303.75L99.20 300.50M99.20 300.50L102.45 297.25M105.70 294.00L108.95 290.75M108.95 290.75L112.20 287.50M115.45 284.25L118.70 281.00M118.70 281.00L121.95 277.75M125.20 274.50L128.45 271.25M128.45 271.25L131.70 268.00M134.95 264.75L138.20 261.50M138.20 261.50L141.45 258.25M144.70 255.00L147.95 251.75M95.95 310.25L99.20 307.00M99.20 307.00L102.45 303.75M105.70 300.50L108.95 297.25M108.95 297.25L112.20 294.00M115.45 290.75L118.70 287.50M118.70 287.50L121.95 284.25M125.20 281.00L128.45 277.75M128.45 277.75L131.70 274.50M134.95 271.25L138.20 268.00M138.20 268.00L141.45 264.75M144.70 261.50L147.95 258.25M147.95 258.25L151.20 255.00M99.20 313.50L102.45 310.25M105.70 307.00L108.95 303.75M108.95 303.75L112.20 300.50M115.45 297.25L118.70 294.00M118.70 294.00L121.95 290.75M125.20 287.50L128.45 284.25M128.45 284.25L131.70 281.00M134.95 277.75L138.20 274.50M138.20 274.50L141.45 271.25M144.70 268.00L147.95 264.75M147.95 264.75L151.20 261.50M154.45 258.25L157.70 255.00M157.70 255.00L160.95 251.75M105.70 313.50L108.95 310.25M108.95 310.25L112.20 307.00M115.45 303.75L118.70 300.50M118.70 300.50L121.95 297.25M125.20 294.00L128.45 290.75M128.45 290.75L131.70 287.50M134.95 284.25L138.20 281.00M138.20 281.00L141.45 277.75M144.70 274.50L147.95 271.25M147.95 271.25L151.20 268.00M154.45 264.75L157.70 261.50M157.70 261.50L160.95 258.25M164.20 255.00L167.45 251.75M105.70 320.00L108.95 316.75M108.95 316.75L112.20 313.50M115.45 310.25L118.70 307.00M118.70 307.00L121.95 303.75M125.20 300.50L128.45 297.25M128.45 297.25L131.70 294.00M134.95 290.75L138.20 287.50M138.20 287.50L141.45 284.25M144.70 281.00L147.95 277.75M147.95 277.75L151.20 274.50M154.45 271.25L157.70 268.00M157.70 268.00L160.95 264.75M164.20 261.50L167.45 258.25M167.45 258.25L170.70 255.00M108.95 323.25L112.20 320.00M115.45 316.75L118.70 313.50M118.70 313.50L121.95 310.25M125.20 307.00L128.45 303.75M128.45 303.75L131.70 300.50M134.95 297.25L138.20 294.00M138.20 294.00L141.45 290.75M144.70 287.50L147.95 284.25M147.95 284.25L151.20 281.00M154.45 277.75L157.70 274.50M157.70 274.50L160.95 271.25M164.20 268.00L167.45 264.75M167.45 264.75L170.70 261.50M173.95 258.25L177.20 255.00M177.20 255.00L180.45 251.75M115.45 323.25L118.70 320.00M118.70 320.00L121.95 316.75M125.20 313.50L128.45 310.25M128.45 310.25L131.70 307.00M134.95 303.75L138.20 300.50M138.20 300.50L141.45 297.25M144.70 294.00L147.95 290.75M147.95 290.75L151.20 287.50M154.45 284.25L157.70 281.00M157.70 281.00L160.95 277.75M164.20 274.50L167.45 271.25M167.45 271.25L170.70 268.00M173.95 264.75L177.20 261.50M177.20 261.50L180.45 258.25M183.70 255.00L186.95 251.75M125.20 320.00L128.45 316.75M128.45 316.75L131.70 313.50M134.95 310.25L138.20 307.00M138.20 307.00L141.45 303.75M144.70 300.50L147.95 297.25M147.95 297.25L151.20 294.00M154.45 290.75L157.70 287.50M157.70 287.50L160.95 284.25M164.20 281.00L167.45 277.75M167.45 277.75L170.70 274.50M173.95 271.25L177.20 268.00M177.20 268.00L180.45 264.75M183.70 261.50L186.95 258.25M186.95 258.25L190.20 255.00M128.45 323.25L131.70 320.00M134.95 316.75L138.20 313.50M138.20 313.50L141.45 310.25M144.70 307.00L147.95 303.75M147.95 303.75L151.20 300.50M154.45 297.25L157.70 294.00M157.70 294.00L160.95 290.75M164.20 287.50L167.45 284.25M167.45 284.25L170.70 281.00M173.95 277.75L177.20 274.50M177.20 274.50L180.45 271.25M183.70 268.00L186.95 264.75M186.95 264.75L190.20 261.50M193.45 258.25L196.70 255.00M196.70 255.00L199.95 251.75M134.95 323.25L138.20 320.00M138.20 320.00L141.45 316.75M144.70 313.50L147.95 310.25M147.95 310.25L151.20 307.00M154.45 303.75L157.70 300.50M157.70 300.50L160.95 297.25M164.20 294.00L167.45 290.75M167.45 290.75L170.70 287.50M173.95 284.25L177.20 281.00M177.20 281.00L180.45 277.75M183.70 274.50L186.95 271.25M186.95 271.25L190.20 268.00M193.45 264.75L196.70 261.50M196.70 261.50L199.95 258.25M203.20 255.00L206.45 251.75M144.70 320.00L147.95 316.75M147.95 316.75L151.20 313.50M154.45 310.25L157.70 307.00M157.70 307.00L160.95 303.75M164.20 300.50L167.45 297.25M167.45 297.25L170.70 294.00M173.95 290.75L177.20 287.50M177.20 287.50L180.45 284.25M183.70 281.00L186.95 277.75M186.95 277.75L190.20 274.50M193.45 271.25L196.70 268.00M196.70 268.00L199.95 264.75M203.20 261.50L206.45 258.25M206.45 258.25L209.70 255.00M147.95 323.25L151.20 320.00M154.45 316.75L157.70 313.50M157.70 313.50L160.95 310.25M164.20 307.00L167.45 303.75M167.45 303.75L170.70 300.50M173.95 297.25L177.20 294.00M177.20 294.00L180.45 290.75M183.70 287.50L186.95 284.25M186.95 284.25L190.20 281.00M193.45 277.75L196.70 274.50M196.70 274.50L199.95 271.25M203.20 268.00L206.45 264.75M206.45 264.75L209.70 261.50M212.95 258.25L216.20 255.00M216.20 255.00L219.45 251.75M154.45 323.25L157.70 320.00M157.70 320.00L160.95 316.75M164.20 313.50L167.45 310.25M167.45 310.25L170.70 307.00M173.95 303.75L177.20 300.50M177.20 300.50L180.45 297.25M183.70 294.00L186.95 290.75M186.95 290.75L190.20 287.50M193.45 284.25L196.70 281.00M196.70 281.00L199.95 277.75M203.20 274.50L206.45 271.25M206.45 271.25L209.70 268.00M212.95 264.75L216.20 261.50M216.20 261.50L219.45 258.25M222.70 255.00L225.95 251.75M164.20 320.00L167.45 316.75M167.45 316.75L170.70 313.50M173.95 310.25L177.20 307.00M177.20 307.00L180.45 303.75M183.70 300.50L186.95 297.25M186.95 297.25L190.20 294.00M193.45 290.75L196.70 287.50M196.70 287.50L199.95 284.25M203.20 281.00L206.45 277.75M206.45 277.75L209.70 274.50M212.95 271.25L216.20 268.00M216.20 268.00L219.45 264.75M222.70 261.50L225.95 258.25M225.95 258.25L229.20 255.00M167.45 323.25L170.70 320.00M173.95 316.75L177.20 313.50M177.20 313.50L180.45 310.25M183.70 307.00L186.95 303.75M186.95 303.75L190.20 300.50M193.45 297.25L196.70 294.00M196.70 294.00L199.95 290.75M203.20 287.50L206.45 284.25M206.45 284.25L209.70 281.00M212.95 277.75L216.20 274.50M216.20 274.50L219.45 271.25M222.70 268.00L225.95 264.75M225.95 264.75L229.20 261.50M232.45 258.25L235.70 255.00M235.70 255.00L238.95 251.75M173.95 323.25L177.20 320.00M177.20 320.00L180.45 316.75M183.70 313.50L186.95 310.25M186.95 310.25L190.20 307.00M193.45 303.75L196.70 300.50M196.70 300.50L199.95 297.25M203.20 294.00L206.45 290.75M206.45 290.75L209.70 287.50M212.95 284.25L216.20 281.00M216.20 281.00L219.45 277.75M222.70 274.50L225.95 271.25M225.95 271.25L229.20 268.00M232.45 264.75L235.70 261.50M235.70 261.50L238.95 258.25M242.20 255.00L245.45 251.75M183.70 320.00L186.95 316.75M186.95 316.75L190.20 313.50M193.45 310.25L196.70 307.00M196.70 307.00L199.95 303.75M203.20 300.50L206.45 297.25M206.45 297.25L209.70 294.00M212.95 290.75L216.20 287.50M216.20 287.50L219.45 284.25M222.70 281.00L225.95 277.75M225.95 277.75L229.20 274.50M232.45 271.25L235.70 268.00M235.70 268.00L238.95 264.75M242.20 261.50L245.45 258.25M245.45 258.25L248.70 255.00M186.95 323.25L190.20 320.00M193.45 316.75L196.70 313.50M196.70 313.50L199.95 310.25M203.20 307.00L206.45 303.75M206.45 303.75L209.70 300.50M212.95 297.25L216.20 294.00M216.20 294.00L219.45 290.75M222.70 287.50L225.95 284.25M225.95 284.25L229.20 281.00M232.45 277.75L235.70 274.50M235.70 274.50L238.95 271.25M242.20 268.00L245.45 264.75M245.45 264.75L248.70 261.50M251.95 258.25L255.20 255.00M255.20 255.00L258.45 251.75M193.45 323.25L196.70 320.00M196.70 320.00L199.95 316.75M203.20 313.50L206.45 310.25M206.45 310.25L209.70 307.00M212.95 303.75L216.20 300.50M216.20 300.50L219.45 297.25M222.70 294.00L225.95 290.75M225.95 290.75L229.20 287.50M232.45 284.25L235.70 281.00M235.70 281.00L238.95 277.75M242.20 274.50L245.45 271.25M245.45 271.25L248.70 268.00M251.95 264.75L255.20 261.50M255.20 261.50L258.45 258.25M261.70 255.00L264.95 251.75M203.20 320.00L206.45 316.75M206.45 316.75L209.70 313.50M212.95 310.25L216.20 307.00M216.20 307.00L219.45 303.75M222.70 300.50L225.95 297.25M225.95 297.25L229.20 294.00M232.45 290.75L235.70 287.50M235.70 287.50L238.95 284.25M242.20 281.00L245.45 277.75M245.45 277.75L248.70 274.50M251.95 271.25L255.20 268.00M255.20 268.00L258.45 264.75M261.70 261.50L264.95 258.25M264.95 258.25L268.20 255.00M206.45 323.25L209.70 320.00M212.95 316.75L216.20 313.50M216.20 313.50L219.45 310.25M222.70 307.00L225.95 303.75M225.95 303.75L229.20 300.50M232.45 297.25L235.70 294.00M235.70 294.00L238.95 290.75M242.20 287.50L245.45 284.25M245.45 284.25L248.70 281.00M251.95 277.75L255.20 274.50M255.20 274.50L258.45 271.25M261.70 268.00L264.95 264.75M264.95 264.75L268.20 261.50M271.45 258.25L274.70 255.00M274.70 255.00L277.95 251.75M212.95 323.25L216.20 320.00M216.20 320.00L219.45 316.75M222.70 313.50L225.95 310.25M225.95 310.25L229.20 307.00M232.45 303.75L235.70 300.50M235.70 300.50L238.95 297.25M242.20 294.00L245.45 290.75M245.45 290.75L248.70 287.50M251.95 284.25L255.20 281.00M255.20 281.00L258.45 277.75M261.70 274.50L264.95 271.25M264.95 271.25L268.20 268.00M271.45 264.75L274.70 261.50M274.70 261.50L277.95 258.25M281.20 255.00L284.45 251.75M222.70 320.00L225.95 316.75M225.95 316.75L229.20 313.50M232.45 310.25L235.70 307.00M235.70 307.00L238.95 303.75M242.20 300.50L245.45 297.25M245.45 297.25L248.70 294.00M251.95 290.75L255.20 287.50M255.20 287.50L258.45 284.25M261.70 281.00L264.95 277.75M264.95 277.75L268.20 274.50M271.45 271.25L274.70 268.00M274.70 268.00L277.95 264.75M281.20 261.50L284.45 258.25M284.45 258.25L287.70 255.00M225.95 323.25L229.20 320.00M232.45 316.75L235.70 313.50M235.70 313.50L238.95 310.25M242.20 307.00L245.45 303.75M245.45 303.75L248.70 300.50M251.95 297.25L255.20 294.00M255.20 294.00L258.45 290.75M261.70 287.50L264.95 284.25M264.95 284.25L268.20 281.00M271.45 277.75L274.70 274.50M274.70 274.50L277.95 271.25M281.20 268.00L284.45 264.75M284.45 264.75L287.70 261.50M290.95 258.25L294.20 255.00M294.20 255.00L297.45 251.75M232.45 323.25L235.70 320.00M235.70 320.00L238.95 316.75M242.20 313.50L245.45 310.25M245.45 310.25L248.70 307.00M251.95 303.75L255.20 300.50M255.20 300.50L258.45 297.25M261.70 294.00L264.95 290.75M264.95 290.75L268.20 287.50M271.45 284.25L274.70 281.00M274.70 281.00L277.95 277.75M281.20 274.50L284.45 271.25M284.45 271.25L287.70 268.00M290.95 264.75L294.20 261.50M294.20 261.50L297.45 258.25M300.70 255.00L303.95 251.75M242.20 320.00L245.45 316.75M245.45 316.75L248.70 313.50M251.95 310.25L255.20 307.00M255.20 307.00L258.45 303.75M261.70 300.50L264.95 297.25M264.95 297.25L268.20 294.00M271.45 290.75L274.70 287.50M274.70 287.50L277.95 284.25M281.20 281.00L284.45 277.75M284.45 277.75L287.70 274.50M290.95 271.25L294.20 268.00M294.20 268.00L297.45 264.75M300.70 261.50L303.95 258.25M303.95 258.25L307.20 255.00M245.45 323.25L248.70 320.00M251.95 316.75L255.20 313.50M255.20 313.50L258.45 310.25M261.70 307.00L264.95 303.75M264.95 303.75L268.20 300.50M271.45 297.25L274.70 294.00M274.70 294.00L277.95 290.75M281.20 287.50L284.45 284.25M284.45 284.25L287.70 281.00M290.95 277.75L294.20 274.50M294.20 274.50L297.45 271.25M300.70 268.00L303.95 264.75M303.95 264.75L307.20 261.50M310.45 258.25L313.70 255.00M313.70 255.00L316.95 251.75M251.95 323.25L255.20 320.00M255.20 320.00L258.45 316.75M261.70 313.50L264.95 310.25M264.95 310.25L268.20 307.00M271.45 303.75L274.70 300.50M274.70 300.50L277.95 297.25M281.20 294.00L284.45 290.75M284.45 290.75L287.70 287.50M290.95 284.25L294.20 281.00M294.20 281.00L297.45 277.75M300.70 274.50L303.95 271.25M303.95 271.25L307.20 268.00M310.45 264.75L313.70 261.50M313.70 261.50L316.95 258.25M320.20 255.00L323.45 251.75M261.70 320.00L264.95 316.75M264.95 316.75L268.20 313.50M271.45 310.25L274.70 307.00M274.70 307.00L277.95 303.75M281.20 300.50L284.45 297.25M284.45 297.25L287.70 294.00M290.95 290.75L294.20 287.50M294.20 287.50L297.45 284.25M300.70 281.00L303.95 277.75M303.95 277.75L307.20 274.50M310.45 271.25L313.70 268.00M313.70 268.00L316.95 264.75M320.20 261.50L323.45 258.25M323.45 258.25L326.70 255.00M264.95 323.25L268.20 320.00M271.45 316.75L274.70 313.50M274.70 313.50L277.95 310.25M281.20 307.00L284.45 303.75M284.45 303.75L287.70 300.50M290.95 297.25L294.20 294.00M294.20 294.00L297.45 290.75M300.70 287.50L303.95 284.25M303.95 284.25L307.20 281.00M310.45 277.75L313.70 274.50M313.70 274.50L316.95 271.25M320.20 268.00L323.45 264.75M323.45 264.75L326.70 261.50M329.95 258.25L333.20 255.00M333.20 255.00L336.45 251.75M271.45 323.25L274.70 320.00M274.70 320.00L277.95 316.75M281.20 313.50L284.45 310.25M284.45 310.25L287.70 307.00M290.95 303.75L294.20 300.50M294.20 300.50L297.45 297.25M300.70 294.00L303.95 290.75M303.95 290.75L307.20 287.50M310.45 284.25L313.70 281.00M313.70 281.00L316.95 277.75M320.20 274.50L323.45 271.25M323.45 271.25L326.70 268.00M329.95 264.75L333.20 261.50M333.20 261.50L336.45 258.25M339.70 255.00L342.95 251.75M281.20 320.00L284.45 316.75M284.45 316.75L287.70 313.50M290.95 310.25L294.20 307.00M294.20 307.00L297.45 303.75M300.70 300.50L303.95 297.25M303.95 297.25L307.20 294.00M310.45 290.75L313.70 287.50M313.70 287.50L316.95 284.25M320.20 281.00L323.45 277.75M323.45 277.75L326.70 274.50M329.95 271.25L333.20 268.00M333.20 268.00L336.45 264.75M339.70 261.50L342.95 258.25M342.95 258.25L346.20 255.00M284.45 323.25L287.70 320.00M290.95 316.75L294.20 313.50M294.20 313.50L297.45 310.25M300.70 307.00L303.95 303.75M303.95 303.75L307.20 300.50M310.45 297.25L313.70 294.00M313.70 294.00L316.95 290.75M320.20 287.50L323.45 284.25M323.45 284.25L326.70 281.00M329.95 277.75L333.20 274.50M333.20 274.50L336.45 271.25M339.70 268.00L342.95 264.75M342.95 264.75L346.20 261.50M349.45 258.25L352.70 255.00M352.70 255.00L355.95 251.75M290.95 323.25L294.20 320.00M294.20 320.00L297.45 316.75M300.70 313.50L303.95 310.25M303.95 310.25L307.20 307.00M310.45 303.75L313.70 300.50M313.70 300.50L316.95 297.25M320.20 294.00L323.45 290.75M323.45 290.75L326.70 287.50M329.95 284.25L333.20 281.00M333.20 281.00L336.45 277.75M339.70 274.50L342.95 271.25M342.95 271.25L346.20 268.00M349.45 264.75L352.70 261.50M352.70 261.50L355.95 258.25M359.20 255.00L362.45 251.75M300.70 320.00L303.95 316.75M303.95 316.75L307.20 313.50M310.45 310.25L313.70 307.00M313.70 307.00L316.95 303.75M320.20 300.50L323.45 297.25M323.45 297.25L326.70 294.00M329.95 290.75L333.20 287.50M333.20 287.50L336.45 284.25M339.70 281.00L342.95 277.75M342.95 277.75L346.20 274.50M349.45 271.25L352.70 268.00M352.70 268.00L355.95 264.75M359.20 261.50L362.45 258.25M362.45 258.25L365.70 255.00M303.95 323.25L307.20 320.00M310.45 316.75L313.70 313.50M313.70 313.50L316.95 310.25M320.20 307.00L323.45 303.75M323.45 303.75L326.70 300.50M329.95 297.25L333.20 294.00M333.20 294.00L336.45 290.75M339.70 287.50L342.95 284.25M342.95 284.25L346.20 281.00M349.45 277.75L352.70 274.50M352.70 274.50L355.95 271.25M359.20 268.00L362.45 264.75M362.45 264.75L365.70 261.50M368.95 258.25L372.20 255.00M372.20 255.00L375.45 251.75M310.45 323.25L313.70 320.00M313.70 320.00L316.95 316.75M320.20 313.50L323.45 310.25M323.45 310.25L326.70 307.00M329.95 303.75L333.20 300.50M333.20 300.50L336.45 297.25M339.70 294.00L342.95 290.75M342.95 290.75L346.20 287.50M349.45 284.25L352.70 281.00M352.70 281.00L355.95 277.75M359.20 274.50L362.45 271.25M362.45 271.25L365.70 268.00M368.95 264.75L372.20 261.50M372.20 261.50L375.45 258.25M378.70 255.00L381.95 251.75M320.20 320.00L323.45 316.75M323.45 316.75L326.70 313.50M329.95 310.25L333.20 307.00M333.20 307.00L336.45 303.75M339.70 300.50L342.95 297.25M342.95 297.25L346.20 294.00M349.45 290.75L352.70 287.50M352.70 287.50L355.95 284.25M359.20 281.00L362.45 277.75M362.45 277.75L365.70 274.50M368.95 271.25L372.20 268.00M372.20 268.00L375.45 264.75M378.70 261.50L381.95 258.25M381.95 258.25L385.20 255.00M323.45 323.25L326.70 320.00M329.95 316.75L333.20 313.50M333.20 313.50L336.45 310.25M339.70 307.00L342.95 303.75M342.95 303.75L346.20 300.50M349.45 297.25L352.70 294.00M352.70 294.00L355.95 290.75M359.20 287.50L362.45 284.25M362.45 284.25L365.70 281.00M368.95 277.75L372.20 274.50M372.20 274.50L375.45 271.25M378.70 268.00L381.95 264.75M381.95 264.75L385.20 261.50M388.45 258.25L391.70 255.00M391.70 255.00L394.95 251.75M329.95 323.25L333.20 320.00M333.20 320.00L336.45 316.75M339.70 313.50L342.95 310.25M342.95 310.25L346.20 307.00M349.45 303.75L352.70 300.50M352.70 300.50L355.95 297.25M359.20 294.00L362.45 290.75M362.45 290.75L365.70 287.50M368.95 284.25L372.20 281.00M372.20 281.00L375.45 277.75M378.70 274.50L381.95 271.25M381.95 271.25L385.20 268.00M388.45 264.75L391.70 261.50M391.70 261.50L394.95 258.25M398.20 255.00L401.45 251.75M339.70 320.00L342.95 316.75M342.95 316.75L346.20 313.50M349.45 310.25L352.70 307.00M352.70 307.00L355.95 303.75M359.20 300.50L362.45 297.25M362.45 297.25L365.70 294.00M368.95 290.75L372.20 287.50M372.20 287.50L375.45 284.25M378.70 281.00L381.95 277.75M381.95 277.75L385.20 274.50M388.45 271.25L391.70 268.00M391.70 268.00L394.95 264.75M398.20 261.50L401.45 258.25M401.45 258.25L404.70 255.00M342.95 323.25L346.20 320.00M349.45 316.75L352.70 313.50M352.70 313.50L355.95 310.25M359.20 307.00L362.45 303.75M362.45 303.75L365.70 300.50M368.95 297.25L372.20 294.00M372.20 294.00L375.45 290.75M378.70 287.50L381.95 284.25M381.95 284.25L385.20 281.00M388.45 277.75L391.70 274.50M391.70 274.50L394.95 271.25M398.20 268.00L401.45 264.75M401.45 264.75L404.70 261.50M407.95 258.25L411.20 255.00M411.20 255.00L414.45 251.75M349.45 323.25L352.70 320.00M352.70 320.00L355.95 316.75M359.20 313.50L362.45 310.25M362.45 310.25L365.70 307.00M368.95 303.75L372.20 300.50M372.20 300.50L375.45 297.25M378.70 294.00L381.95 290.75M381.95 290.75L385.20 287.50M388.45 284.25L391.70 281.00M391.70 281.00L394.95 277.75M398.20 274.50L401.45 271.25M401.45 271.25L404.70 268.00M407.95 264.75L411.20 261.50M411.20 261.50L414.45 258.25M417.70 255.00L420.95 251.75M359.20 320.00L362.45 316.75M362.45 316.75L365.70 313.50M368.95 310.25L372.20 307.00M372.20 307.00L375.45 303.75M378.70 300.50L381.95 297.25M381.95 297.25L385.20 294.00M388.45 290.75L391.70 287.50M391.70 287.50L394.95 284.25M398.20 281.00L401.45 277.75M401.45 277.75L404.70 274.50M407.95 271.25L411.20 268.00M411.20 268.00L414.45 264.75M417.70 261.50L420.95 258.25M420.95 258.25L424.20 255.00M362.45 323.25L365.70 320.00M368.95 316.75L372.20 313.50M372.20 313.50L375.45 310.25M378.70 307.00L381.95 303.75M381.95 303.75L385.20 300.50M388.45 297.25L391.70 294.00M391.70 294.00L394.95 290.75M398.20 287.50L401.45 284.25M401.45 284.25L404.70 281.00M407.95 277.75L411.20 274.50M411.20 274.50L414.45 271.25M417.70 268.00L420.95 264.75M420.95 264.75L424.20 261.50M427.45 258.25L430.70 255.00M430.70 255.00L433.95 251.75M368.95 323.25L372.20 320.00M372.20 320.00L375.45 316.75M378.70 313.50L381.95 310.25M381.95 310.25L385.20 307.00M388.45 303.75L391.70 300.50M391.70 300.50L394.95 297.25M398.20 294.00L401.45 290.75M401.45 290.75L404.70 287.50M407.95 284.25L411.20 281.00M411.20 281.00L414.45 277.75M417.70 274.50L420.95 271.25M420.95 271.25L424.20 268.00M427.45 264.75L430.70 261.50M430.70 261.50L433.95 258.25M437.20 255.00L440.45 251.75M378.70 320.00L381.95 316.75M381.95 316.75L385.20 313.50M388.45 310.25L391.70 307.00M391.70 307.00L394.95 303.75M398.20 300.50L401.45 297.25M401.45 297.25L404.70 294.00M407.95 290.75L411.20 287.50M411.20 287.50L414.45 284.25M417.70 281.00L420.95 277.75M420.95 277.75L424.20 274.50M427.45 271.25L430.70 268.00M430.70 268.00L433.95 264.75M437.20 261.50L440.45 258.25M440.45 258.25L443.70 255.00M381.95 323.25L385.20 320.00M388.45 316.75L391.70 313.50M391.70 313.50L394.95 310.25M398.20 307.00L401.45 303.75M401.45 303.75L404.70 300.50M407.95 297.25L411.20 294.00M411.20 294.00L414.45 290.75M417.70 287.50L420.95 284.25M420.95 284.25L424.20 281.00M427.45 277.75L430.70 274.50M430.70 274.50L433.95 271.25M437.20 268.00L440.45 264.75M440.45 264.75L443.70 261.50M388.45 323.25L391.70 320.00M391.70 320.00L394.95 316.75M398.20 313.50L401.45 310.25M401.45 310.25L404.70 307.00M407.95 303.75L411.20 300.50M411.20 300.50L414.45 297.25M417.70 294.00L420.95 290.75M420.95 290.75L424.20 287.50M427.45 284.25L430.70 281.00M430.70 281.00L433.95 277.75M437.20 274.50L440.45 271.25M440.45 271.25L443.70 268.00M446.95 264.75L450.20 261.50M398.20 320.00L401.45 316.75M401.45 316.75L404.70 313.50M407.95 310.25L411.20 307.00M411.20 307.00L414.45 303.75M417.70 300.50L420.95 297.25M420.95 297.25L424.20 294.00M427.45 290.75L430.70 287.50M430.70 287.50L433.95 284.25M437.20 281.00L440.45 277.75M440.45 277.75L443.70 274.50M446.95 271.25L450.20 268.00M450.20 268.00L453.45 264.75M401.45 323.25L404.70 320.00M407.95 316.75L411.20 313.50M411.20 313.50L414.45 310.25M417.70 307.00L420.95 303.75M420.95 303.75L424.20 300.50M427.45 297.25L430.70 294.00M430.70 294.00L433.95 290.75M437.20 287.50L440.45 284.25M440.45 284.25L443.70 281.00M446.95 277.75L450.20 274.50M450.20 274.50L453.45 271.25M407.95 323.25L411.20 320.00M411.20 320.00L414.45 316.75M417.70 313.50L420.95 310.25M420.95 310.25L424.20 307.00M427.45 303.75L430.70 300.50M430.70 300.50L433.95 297.25M437.20 294.00L440.45 290.75M440.45 290.75L443.70 287.50M446.95 284.25L450.20 281.00M450.20 281.00L453.45 277.75M456.70 274.50L459.95 271.25M417.70 320.00L420.95 316.75M420.95 316.75L424.20 313.50M427.45 310.25L430.70 307.00M430.70 307.00L433.95 303.75M437.20 300.50L440.45 297.25M440.45 297.25L443.70 294.00M446.95 290.75L450.20 287.50M450.20 287.50L453.45 284.25M456.70 281.00L459.95 277.75M459.95 277.75L463.20 274.50M420.95 323.25L424.20 320.00M427.45 316.75L430.70 313.50M430.70 313.50L433.95 310.25M437.20 307.00L440.45 303.75M440.45 303.75L443.70 300.50M446.95 297.25L450.20 294.00M450.20 294.00L453.45 290.75M456.70 287.50L459.95 284.25M459.95 284.25L463.20 281.00M427.45 323.25L430.70 320.00M430.70 320.00L433.95 316.75M437.20 313.50L440.45 310.25M440.45 310.25L443.70 307.00M446.95 303.75L450.20 300.50M450.20 300.50L453.45 297.25M456.70 294.00L459.95 290.75M459.95 290.75L463.20 287.50M466.45 284.25L469.70 281.00M437.20 320.00L440.45 316.75M440.45 316.75L443.70 313.50M446.95 310.25L450.20 307.00M450.20 307.00L453.45 303.75M456.70 300.50L459.95 297.25M459.95 297.25L463.20 294.00M466.45 290.75L469.70 287.50M469.70 287.50L472.95 284.25" stroke="#404040" stroke-width="1.2" fill="none" clip-path="url(#bkc)"/><path d="M108.7 223.1L383.4 241.7V278.0L108.7 259.5Z" fill="#fff"/><clipPath id="insc"><path d="M108.7 223.1L383.4 241.7V278.0L108.7 259.5Z"/></clipPath><g clip-path="url(#insc)"><path d="M88.85 235.76L94.68 247.59A6.5 6.5 0 1 1 83.02 247.59Z" fill="#bdbdbd" stroke="#3ccc3c" stroke-width="1.5"/><path d="M103.95 236.78L109.78 248.61A6.5 6.5 0 1 1 98.12 248.61Z" fill="#bdbdbd" stroke="#3ccc3c" stroke-width="1.5"/><path d="M119.05 237.80L124.88 249.62A6.5 6.5 0 1 1 113.22 249.62Z" fill="#bdbdbd" stroke="#3ccc3c" stroke-width="1.5"/><path d="M134.15 238.82L139.98 250.64A6.5 6.5 0 1 1 128.32 250.64Z" fill="#bdbdbd" stroke="#3ccc3c" stroke-width="1.5"/><path d="M149.25 239.85L155.08 251.65A6.5 6.5 0 1 1 143.42 251.65Z" fill="#bdbdbd" stroke="#3ccc3c" stroke-width="1.5"/><path d="M164.35 240.87L170.18 252.67A6.5 6.5 0 1 1 158.52 252.67Z" fill="#bdbdbd" stroke="#3ccc3c" stroke-width="1.5"/><path d="M179.45 241.89L185.28 253.69A6.5 6.5 0 1 1 173.62 253.69Z" fill="#bdbdbd" stroke="#3ccc3c" stroke-width="1.5"/><path d="M194.55 242.92L200.38 254.70A6.5 6.5 0 1 1 188.72 254.70Z" fill="#bdbdbd" stroke="#3ccc3c" stroke-width="1.5"/><path d="M209.65 243.94L215.48 255.72A6.5 6.5 0 1 1 203.82 255.72Z" fill="#bdbdbd" stroke="#3ccc3c" stroke-width="1.5"/><path d="M224.75 244.96L230.58 256.74A6.5 6.5 0 1 1 218.92 256.74Z" fill="#bdbdbd" stroke="#3ccc3c" stroke-width="1.5"/><path d="M239.85 245.98L245.68 257.75A6.5 6.5 0 1 1 234.02 257.75Z" fill="#bdbdbd" stroke="#3ccc3c" stroke-width="1.5"/><path d="M254.95 247.01L260.77 258.77A6.5 6.5 0 1 1 249.13 258.77Z" fill="#bdbdbd" stroke="#3ccc3c" stroke-width="1.5"/><path d="M270.05 248.03L275.87 259.79A6.5 6.5 0 1 1 264.23 259.79Z" fill="#bdbdbd" stroke="#3ccc3c" stroke-width="1.5"/><path d="M285.15 249.05L290.97 260.80A6.5 6.5 0 1 1 279.33 260.80Z" fill="#bdbdbd" stroke="#3ccc3c" stroke-width="1.5"/><path d="M300.25 250.08L306.07 261.82A6.5 6.5 0 1 1 294.43 261.82Z" fill="#bdbdbd" stroke="#3ccc3c" stroke-width="1.5"/><path d="M315.35 251.10L321.17 262.83A6.5 6.5 0 1 1 309.53 262.83Z" fill="#bdbdbd" stroke="#3ccc3c" stroke-width="1.5"/><path d="M330.45 252.12L336.27 263.85A6.5 6.5 0 1 1 324.63 263.85Z" fill="#bdbdbd" stroke="#3ccc3c" stroke-width="1.5"/><path d="M345.55 253.14L351.37 264.87A6.5 6.5 0 1 1 339.73 264.87Z" fill="#bdbdbd" stroke="#3ccc3c" stroke-width="1.5"/><path d="M360.65 254.17L366.47 265.88A6.5 6.5 0 1 1 354.83 265.88Z" fill="#bdbdbd" stroke="#3ccc3c" stroke-width="1.5"/><path d="M375.75 255.19L381.57 266.90A6.5 6.5 0 1 1 369.93 266.90Z" fill="#bdbdbd" stroke="#3ccc3c" stroke-width="1.5"/><path d="M390.85 256.21L396.67 267.92A6.5 6.5 0 1 1 385.03 267.92Z" fill="#bdbdbd" stroke="#3ccc3c" stroke-width="1.5"/><path d="M405.95 257.24L411.77 268.93A6.5 6.5 0 1 1 400.13 268.93Z" fill="#bdbdbd" stroke="#3ccc3c" stroke-width="1.5"/><path d="M81.30 246.04L87.37 231.84A6.6 6.6 0 1 0 75.23 231.84Z" fill="#fff" stroke="#3ccc3c" stroke-width="1.5"/><path d="M96.40 247.07L102.47 232.86A6.6 6.6 0 1 0 90.33 232.86Z" fill="#fff" stroke="#3ccc3c" stroke-width="1.5"/><path d="M111.50 248.09L117.57 233.88A6.6 6.6 0 1 0 105.43 233.88Z" fill="#fff" stroke="#3ccc3c" stroke-width="1.5"/><path d="M126.60 249.11L132.67 234.91A6.6 6.6 0 1 0 120.53 234.91Z" fill="#fff" stroke="#3ccc3c" stroke-width="1.5"/><path d="M141.70 250.14L147.77 235.93A6.6 6.6 0 1 0 135.63 235.93Z" fill="#fff" stroke="#3ccc3c" stroke-width="1.5"/><path d="M156.80 251.16L162.87 236.95A6.6 6.6 0 1 0 150.73 236.95Z" fill="#fff" stroke="#3ccc3c" stroke-width="1.5"/><path d="M171.90 252.18L177.97 237.97A6.6 6.6 0 1 0 165.83 237.97Z" fill="#fff" stroke="#3ccc3c" stroke-width="1.5"/><path d="M187.00 253.20L193.07 239.00A6.6 6.6 0 1 0 180.93 239.00Z" fill="#fff" stroke="#3ccc3c" stroke-width="1.5"/><path d="M202.10 254.23L208.17 240.02A6.6 6.6 0 1 0 196.03 240.02Z" fill="#fff" stroke="#3ccc3c" stroke-width="1.5"/><path d="M217.20 255.25L223.27 241.04A6.6 6.6 0 1 0 211.13 241.04Z" fill="#fff" stroke="#3ccc3c" stroke-width="1.5"/><path d="M232.30 256.27L238.37 242.07A6.6 6.6 0 1 0 226.23 242.07Z" fill="#fff" stroke="#3ccc3c" stroke-width="1.5"/><path d="M247.40 257.30L253.47 243.09A6.6 6.6 0 1 0 241.33 243.09Z" fill="#fff" stroke="#3ccc3c" stroke-width="1.5"/><path d="M262.50 258.32L268.57 244.11A6.6 6.6 0 1 0 256.43 244.11Z" fill="#fff" stroke="#3ccc3c" stroke-width="1.5"/><path d="M277.60 259.34L283.67 245.13A6.6 6.6 0 1 0 271.53 245.13Z" fill="#fff" stroke="#3ccc3c" stroke-width="1.5"/><path d="M292.70 260.36L298.77 246.16A6.6 6.6 0 1 0 286.63 246.16Z" fill="#fff" stroke="#3ccc3c" stroke-width="1.5"/><path d="M307.80 261.39L313.87 247.18A6.6 6.6 0 1 0 301.73 247.18Z" fill="#fff" stroke="#3ccc3c" stroke-width="1.5"/><path d="M322.90 262.41L328.97 248.20A6.6 6.6 0 1 0 316.83 248.20Z" fill="#fff" stroke="#3ccc3c" stroke-width="1.5"/><path d="M338.00 263.43L344.07 249.23A6.6 6.6 0 1 0 331.93 249.23Z" fill="#fff" stroke="#3ccc3c" stroke-width="1.5"/><path d="M353.10 264.46L359.17 250.25A6.6 6.6 0 1 0 347.03 250.25Z" fill="#fff" stroke="#3ccc3c" stroke-width="1.5"/><path d="M368.20 265.48L374.27 251.27A6.6 6.6 0 1 0 362.13 251.27Z" fill="#fff" stroke="#3ccc3c" stroke-width="1.5"/><path d="M383.30 266.50L389.37 252.29A6.6 6.6 0 1 0 377.23 252.29Z" fill="#fff" stroke="#3ccc3c" stroke-width="1.5"/><path d="M398.40 267.52L404.47 253.32A6.6 6.6 0 1 0 392.33 253.32Z" fill="#fff" stroke="#3ccc3c" stroke-width="1.5"/></g><path d="M108.7 173.0L302.3 198.3V236.2L108.7 223.1Z" fill="url(#rd)"/><path d="M302.3 198.3L383.4 208.9V241.7L302.3 236.2Z" fill="#f4fefe"/><circle cx="367.8" cy="212.4" r="1.3" fill="#3cc4d4" opacity="0.75"/><circle cx="319.8" cy="210.7" r="0.9" fill="#3cc4d4" opacity="0.75"/><circle cx="306.2" cy="206.3" r="1.4" fill="#3cc4d4" opacity="0.75"/><circle cx="357.1" cy="235.5" r="1.2" fill="#3cc4d4" opacity="0.75"/><circle cx="312.4" cy="219.3" r="1.8" fill="#a8e8ee" opacity="0.5"/><circle cx="372.4" cy="226.0" r="2.2" fill="#a8e8ee" opacity="0.5"/><circle cx="311.6" cy="235.6" r="1.8" fill="#a8e8ee" opacity="0.5"/><rect x="366.4" y="216.1" width="1" height="1" fill="#80a0a0"/><circle cx="349.0" cy="217.3" r="1.9" fill="#a8e8ee" opacity="0.5"/><circle cx="317.3" cy="227.3" r="1.3" fill="#3cc4d4" opacity="0.75"/><rect x="323.4" y="224.2" width="1" height="1" fill="#80a0a0"/><circle cx="349.6" cy="227.3" r="0.7" fill="#3cc4d4" opacity="0.75"/><circle cx="306.0" cy="205.1" r="1.8" fill="#a8e8ee" opacity="0.5"/><circle cx="343.9" cy="234.6" r="0.9" fill="#3cc4d4" opacity="0.75"/><circle cx="355.0" cy="206.9" r="0.9" fill="#3cc4d4" opacity="0.75"/><circle cx="311.7" cy="213.2" r="1.1" fill="#3cc4d4" opacity="0.75"/><circle cx="349.9" cy="212.2" r="1.9" fill="#a8e8ee" opacity="0.5"/><circle cx="314.0" cy="233.8" r="0.8" fill="#3cc4d4" opacity="0.75"/><rect x="310.9" y="223.0" width="1" height="1" fill="#80a0a0"/><circle cx="365.2" cy="220.4" r="0.7" fill="#3cc4d4" opacity="0.75"/><circle cx="354.3" cy="224.5" r="1.2" fill="#3cc4d4" opacity="0.75"/><circle cx="338.4" cy="235.5" r="1.7" fill="#a8e8ee" opacity="0.5"/><circle cx="374.8" cy="210.2" r="1.0" fill="#3cc4d4" opacity="0.75"/><circle cx="322.1" cy="203.9" r="1.5" fill="#a8e8ee" opacity="0.5"/><circle cx="346.9" cy="236.3" r="0.8" fill="#3cc4d4" opacity="0.75"/><circle cx="351.4" cy="222.4" r="2.2" fill="#a8e8ee" opacity="0.5"/><circle cx="317.1" cy="212.1" r="0.7" fill="#3cc4d4" opacity="0.75"/><circle cx="373.6" cy="233.2" r="1.5" fill="#a8e8ee" opacity="0.5"/><circle cx="370.1" cy="231.7" r="1.2" fill="#3cc4d4" opacity="0.75"/><circle cx="339.1" cy="211.7" r="0.9" fill="#3cc4d4" opacity="0.75"/><circle cx="306.4" cy="211.8" r="2.1" fill="#a8e8ee" opacity="0.5"/><circle cx="370.2" cy="230.7" r="1.1" fill="#3cc4d4" opacity="0.75"/><circle cx="337.8" cy="230.5" r="0.9" fill="#3cc4d4" opacity="0.75"/><circle cx="354.1" cy="237.6" r="1.3" fill="#3cc4d4" opacity="0.75"/><circle cx="304.5" cy="208.9" r="1.2" fill="#3cc4d4" opacity="0.75"/><circle cx="378.0" cy="232.4" r="1.3" fill="#3cc4d4" opacity="0.75"/><rect x="329.3" y="211.0" width="1" height="1" fill="#80a0a0"/><circle cx="353.2" cy="228.6" r="2.3" fill="#a8e8ee" opacity="0.5"/><circle cx="340.4" cy="232.4" r="2.2" fill="#a8e8ee" opacity="0.5"/><circle cx="337.9" cy="228.4" r="1.7" fill="#a8e8ee" opacity="0.5"/><circle cx="320.1" cy="223.3" r="1.3" fill="#3cc4d4" opacity="0.75"/><circle cx="314.7" cy="201.9" r="1.4" fill="#3cc4d4" opacity="0.75"/><circle cx="330.6" cy="207.8" r="0.7" fill="#3cc4d4" opacity="0.75"/><circle cx="358.1" cy="227.1" r="2.1" fill="#a8e8ee" opacity="0.5"/><circle cx="308.5" cy="221.1" r="1.3" fill="#3cc4d4" opacity="0.75"/><circle cx="368.1" cy="236.2" r="1.3" fill="#3cc4d4" opacity="0.75"/><circle cx="375.6" cy="238.4" r="0.8" fill="#3cc4d4" opacity="0.75"/><circle cx="312.2" cy="201.8" r="2.1" fill="#a8e8ee" opacity="0.5"/><circle cx="353.5" cy="233.0" r="1.7" fill="#a8e8ee" opacity="0.5"/><circle cx="311.2" cy="203.9" r="1.7" fill="#a8e8ee" opacity="0.5"/><circle cx="328.5" cy="217.3" r="0.9" fill="#3cc4d4" opacity="0.75"/><circle cx="325.7" cy="227.0" r="0.9" fill="#3cc4d4" opacity="0.75"/><rect x="379.6" y="225.0" width="1" height="1" fill="#80a0a0"/><circle cx="352.2" cy="206.8" r="1.0" fill="#3cc4d4" opacity="0.75"/><circle cx="364.4" cy="218.5" r="1.9" fill="#a8e8ee" opacity="0.5"/><circle cx="320.4" cy="231.7" r="1.3" fill="#3cc4d4" opacity="0.75"/><circle cx="316.8" cy="201.2" r="1.2" fill="#3cc4d4" opacity="0.75"/><circle cx="380.6" cy="209.7" r="1.0" fill="#3cc4d4" opacity="0.75"/><circle cx="366.3" cy="213.6" r="0.9" fill="#3cc4d4" opacity="0.75"/><rect x="369.1" y="216.3" width="1" height="1" fill="#80a0a0"/><circle cx="325.7" cy="209.8" r="1.9" fill="#a8e8ee" opacity="0.5"/><circle cx="312.0" cy="223.0" r="1.3" fill="#3cc4d4" opacity="0.75"/><circle cx="358.4" cy="232.1" r="1.8" fill="#a8e8ee" opacity="0.5"/><rect x="335.0" y="216.9" width="1" height="1" fill="#80a0a0"/><circle cx="310.1" cy="231.8" r="0.8" fill="#3cc4d4" opacity="0.75"/><circle cx="324.1" cy="233.3" r="1.0" fill="#3cc4d4" opacity="0.75"/><circle cx="373.2" cy="215.9" r="1.1" fill="#3cc4d4" opacity="0.75"/><circle cx="363.0" cy="231.4" r="1.8" fill="#a8e8ee" opacity="0.5"/><circle cx="329.1" cy="208.1" r="2.0" fill="#a8e8ee" opacity="0.5"/><circle cx="362.0" cy="212.6" r="1.2" fill="#3cc4d4" opacity="0.75"/><circle cx="349.1" cy="209.6" r="1.3" fill="#3cc4d4" opacity="0.75"/><circle cx="322.1" cy="208.5" r="1.2" fill="#3cc4d4" opacity="0.75"/><circle cx="370.0" cy="213.1" r="0.9" fill="#3cc4d4" opacity="0.75"/><circle cx="329.1" cy="220.7" r="0.9" fill="#3cc4d4" opacity="0.75"/><circle cx="318.3" cy="235.4" r="1.6" fill="#a8e8ee" opacity="0.5"/><circle cx="379.4" cy="212.5" r="1.4" fill="#3cc4d4" opacity="0.75"/><circle cx="366.2" cy="231.0" r="0.8" fill="#3cc4d4" opacity="0.75"/><circle cx="353.8" cy="209.5" r="1.0" fill="#3cc4d4" opacity="0.75"/><circle cx="306.0" cy="214.0" r="2.1" fill="#a8e8ee" opacity="0.5"/><circle cx="342.9" cy="225.7" r="0.8" fill="#3cc4d4" opacity="0.75"/><circle cx="351.1" cy="219.0" r="2.2" fill="#a8e8ee" opacity="0.5"/><circle cx="337.3" cy="223.2" r="1.8" fill="#a8e8ee" opacity="0.5"/><rect x="321.4" y="226.9" width="1" height="1" fill="#80a0a0"/><rect x="364.5" y="229.8" width="1" height="1" fill="#80a0a0"/><circle cx="357.1" cy="227.3" r="0.9" fill="#3cc4d4" opacity="0.75"/><circle cx="353.0" cy="209.1" r="1.2" fill="#3cc4d4" opacity="0.75"/><circle cx="359.7" cy="227.1" r="1.0" fill="#3cc4d4" opacity="0.75"/><circle cx="339.3" cy="225.0" r="1.2" fill="#3cc4d4" opacity="0.75"/><circle cx="376.9" cy="214.8" r="2.1" fill="#a8e8ee" opacity="0.5"/><rect x="334.0" y="220.1" width="1" height="1" fill="#80a0a0"/><circle cx="306.3" cy="219.2" r="1.2" fill="#3cc4d4" opacity="0.75"/><circle cx="377.7" cy="225.3" r="1.1" fill="#3cc4d4" opacity="0.75"/><circle cx="346.1" cy="228.8" r="1.1" fill="#3cc4d4" opacity="0.75"/><circle cx="368.9" cy="224.6" r="1.4" fill="#3cc4d4" opacity="0.75"/><circle cx="319.9" cy="225.4" r="1.2" fill="#3cc4d4" opacity="0.75"/><circle cx="313.0" cy="235.4" r="0.7" fill="#3cc4d4" opacity="0.75"/><circle cx="325.0" cy="216.1" r="1.0" fill="#3cc4d4" opacity="0.75"/><circle cx="336.6" cy="227.4" r="0.9" fill="#3cc4d4" opacity="0.75"/><rect x="321.1" y="227.5" width="1" height="1" fill="#80a0a0"/><circle cx="345.0" cy="212.2" r="1.8" fill="#a8e8ee" opacity="0.5"/><circle cx="320.1" cy="206.1" r="2.1" fill="#a8e8ee" opacity="0.5"/><circle cx="353.5" cy="221.3" r="1.7" fill="#a8e8ee" opacity="0.5"/><circle cx="379.5" cy="220.4" r="2.2" fill="#a8e8ee" opacity="0.5"/><circle cx="367.9" cy="222.8" r="1.1" fill="#3cc4d4" opacity="0.75"/><circle cx="313.2" cy="230.1" r="1.3" fill="#3cc4d4" opacity="0.75"/><circle cx="324.5" cy="215.2" r="1.0" fill="#3cc4d4" opacity="0.75"/><circle cx="318.0" cy="201.5" r="1.7" fill="#a8e8ee" opacity="0.5"/><circle cx="322.7" cy="212.4" r="1.0" fill="#3cc4d4" opacity="0.75"/><circle cx="353.7" cy="227.6" r="1.4" fill="#3cc4d4" opacity="0.75"/><circle cx="370.9" cy="210.1" r="2.2" fill="#a8e8ee" opacity="0.5"/><circle cx="365.3" cy="212.0" r="2.0" fill="#a8e8ee" opacity="0.5"/><rect x="304.5" y="200.0" width="1" height="1" fill="#80a0a0"/><circle cx="355.2" cy="214.4" r="0.8" fill="#3cc4d4" opacity="0.75"/><circle cx="321.8" cy="228.8" r="0.8" fill="#3cc4d4" opacity="0.75"/><circle cx="374.8" cy="233.6" r="1.3" fill="#3cc4d4" opacity="0.75"/><circle cx="351.4" cy="231.4" r="2.2" fill="#a8e8ee" opacity="0.5"/><circle cx="365.6" cy="234.4" r="1.2" fill="#3cc4d4" opacity="0.75"/><circle cx="345.3" cy="229.6" r="1.3" fill="#3cc4d4" opacity="0.75"/><circle cx="347.2" cy="213.9" r="0.8" fill="#3cc4d4" opacity="0.75"/><circle cx="342.3" cy="206.5" r="0.8" fill="#3cc4d4" opacity="0.75"/><circle cx="342.2" cy="221.2" r="1.3" fill="#3cc4d4" opacity="0.75"/><circle cx="303.8" cy="229.6" r="1.1" fill="#3cc4d4" opacity="0.75"/><circle cx="355.9" cy="233.7" r="1.0" fill="#3cc4d4" opacity="0.75"/><circle cx="379.3" cy="211.7" r="2.0" fill="#a8e8ee" opacity="0.5"/><circle cx="305.6" cy="221.5" r="2.2" fill="#a8e8ee" opacity="0.5"/><circle cx="329.4" cy="236.4" r="1.0" fill="#3cc4d4" opacity="0.75"/><circle cx="374.3" cy="209.8" r="2.0" fill="#a8e8ee" opacity="0.5"/><circle cx="330.1" cy="232.4" r="1.0" fill="#3cc4d4" opacity="0.75"/><circle cx="344.9" cy="230.5" r="1.0" fill="#3cc4d4" opacity="0.75"/><circle cx="336.7" cy="222.5" r="1.7" fill="#a8e8ee" opacity="0.5"/><circle cx="368.8" cy="220.8" r="0.9" fill="#3cc4d4" opacity="0.75"/><circle cx="343.4" cy="237.2" r="2.1" fill="#a8e8ee" opacity="0.5"/><circle cx="329.5" cy="213.7" r="1.1" fill="#3cc4d4" opacity="0.75"/><circle cx="353.5" cy="231.6" r="1.2" fill="#3cc4d4" opacity="0.75"/><circle cx="373.4" cy="225.7" r="0.9" fill="#3cc4d4" opacity="0.75"/><rect x="303.8" y="206.3" width="1" height="1" fill="#80a0a0"/><circle cx="351.4" cy="227.3" r="2.2" fill="#a8e8ee" opacity="0.5"/><circle cx="351.7" cy="226.0" r="2.1" fill="#a8e8ee" opacity="0.5"/><circle cx="350.5" cy="228.0" r="1.2" fill="#3cc4d4" opacity="0.75"/><circle cx="339.5" cy="229.8" r="0.8" fill="#3cc4d4" opacity="0.75"/><rect x="306.2" y="227.4" width="1" height="1" fill="#80a0a0"/><circle cx="355.2" cy="218.2" r="2.1" fill="#a8e8ee" opacity="0.5"/><circle cx="347.8" cy="213.8" r="1.0" fill="#3cc4d4" opacity="0.75"/><circle cx="328.5" cy="217.5" r="2.2" fill="#a8e8ee" opacity="0.5"/><circle cx="307.6" cy="220.2" r="0.8" fill="#3cc4d4" opacity="0.75"/><rect x="367.4" y="226.1" width="1" height="1" fill="#80a0a0"/><circle cx="338.6" cy="204.5" r="1.1" fill="#3cc4d4" opacity="0.75"/><circle cx="377.5" cy="239.7" r="1.0" fill="#3cc4d4" opacity="0.75"/><circle cx="311.4" cy="223.3" r="0.8" fill="#3cc4d4" opacity="0.75"/><circle cx="304.5" cy="199.8" r="1.6" fill="#a8e8ee" opacity="0.5"/><path d="M302.3 198.3V236.2" stroke="#f0f050" stroke-width="1"/><path d="M108.7 151.7L381.8 187.7V208.7L108.7 173.0Z" fill="none" stroke="#f0f040" stroke-width="1.3"/><path d="M168.5 160.6L166.8 180.1" stroke="#b8b030" stroke-width="1.5"/><path d="M108.7 223.1L383.4 241.7" stroke="#d030c0" stroke-width="2" stroke-dasharray="5 2"/><path d="M383.4 208.9V278.6" stroke="#f0f050" stroke-width="1"/><path d="M108.7 118V461M85 447.9H108.7" stroke="#eeee80" stroke-width="1.4"/><path d="M108.7 447.7H436.9" stroke="#eeee80" stroke-width="1" stroke-dasharray="6 5"/><path d="M441.5 447.4H446M452 447.4H476.8" stroke="#f0f050" stroke-width="1.6"/><path d="M436.9 317.8V447.4" stroke="#70d4dc" stroke-width="1"/></g>
<use href="#half" transform="translate(981.3,0) scale(-1,1)"/>
<path d="M108.7 151.7L381.8 187.7V208.7L108.7 173.0ZM872.6 151.7L599.5 187.7V208.7L872.6 173.0Z" fill="url(#ss)" stroke="#ecec48" stroke-width="1.1"/>
<path d="M108.7 317.8H436.9" stroke="#2a2ab0" stroke-width="1.3"/>
<path d="M544.4 317.8H872.6" stroke="#9a9aa0" stroke-width="1"/>
<path d="M108.7 259.5L383.4 278.0" stroke="#111" stroke-width="1"/>
<path d="M872.6 259.5L597.9 278.0" stroke="#7ad8e0" stroke-width="1"/>
<path d="M108.7 295.5H118L100 321.5H108.7M872.6 296H881L863.5 320.5H872.6" stroke="#f0f040" stroke-width="2.2" fill="none"/>
<path d="M168.5 160.6L166.8 180.1M812.8 160.6L814.5 180.1" stroke="#b8b030" stroke-width="1.5"/>
<clipPath id="grc"><rect x="383.4" y="187.7" width="214.5" height="90.9"/></clipPath>
<g fill="none" stroke="#d43030" stroke-width="1.3" clip-path="url(#grc)"><rect x="383.4" y="187.7" width="214.5" height="90.9" fill="#fff" stroke="none"/><ellipse cx="578.7" cy="230.3" rx="6.4" ry="5.1" transform="rotate(1 578.7 230.3)"/><ellipse cx="493.1" cy="244.0" rx="6.7" ry="4.2" transform="rotate(23 493.1 244.0)"/><ellipse cx="405.2" cy="259.1" rx="5.7" ry="3.9" transform="rotate(15 405.2 259.1)"/><ellipse cx="587.2" cy="245.6" rx="5.6" ry="5.5" transform="rotate(9 587.2 245.6)"/><ellipse cx="496.6" cy="195.7" rx="5.8" ry="3.2" transform="rotate(-25 496.6 195.7)"/><ellipse cx="483.1" cy="228.1" rx="6.0" ry="3.4" transform="rotate(27 483.1 228.1)"/><ellipse cx="594.2" cy="274.3" rx="6.4" ry="4.3" transform="rotate(27 594.2 274.3)"/><ellipse cx="434.6" cy="215.8" rx="6.9" ry="4.8" transform="rotate(-34 434.6 215.8)"/><ellipse cx="562.5" cy="223.9" rx="7.0" ry="5.1" transform="rotate(37 562.5 223.9)"/><ellipse cx="430.3" cy="267.5" rx="7.2" ry="4.0" transform="rotate(-2 430.3 267.5)"/><ellipse cx="402.4" cy="243.7" rx="7.5" ry="5.4" transform="rotate(22 402.4 243.7)"/><ellipse cx="455.7" cy="272.4" rx="6.0" ry="3.6" transform="rotate(21 455.7 272.4)"/><ellipse cx="407.4" cy="196.1" rx="5.7" ry="3.8" transform="rotate(24 407.4 196.1)"/><ellipse cx="479.7" cy="207.6" rx="5.9" ry="4.7" transform="rotate(19 479.7 207.6)"/><ellipse cx="410.8" cy="226.6" rx="5.8" ry="4.8" transform="rotate(-23 410.8 226.6)"/><ellipse cx="468.7" cy="262.4" rx="7.3" ry="4.7" transform="rotate(11 468.7 262.4)"/><ellipse cx="448.4" cy="198.1" rx="7.0" ry="4.9" transform="rotate(-33 448.4 198.1)"/><ellipse cx="511.7" cy="222.5" rx="6.7" ry="4.4" transform="rotate(-4 511.7 222.5)"/><ellipse cx="506.1" cy="262.7" rx="7.4" ry="5.7" transform="rotate(-25 506.1 262.7)"/><ellipse cx="582.2" cy="208.4" rx="5.9" ry="5.2" transform="rotate(36 582.2 208.4)"/><ellipse cx="436.3" cy="249.7" rx="5.6" ry="5.5" transform="rotate(-19 436.3 249.7)"/><ellipse cx="442.4" cy="228.5" rx="5.9" ry="3.3" transform="rotate(-35 442.4 228.5)"/><ellipse cx="505.7" cy="202.4" rx="5.9" ry="4.2" transform="rotate(-11 505.7 202.4)"/><ellipse cx="522.9" cy="248.0" rx="7.3" ry="7.2" transform="rotate(7 522.9 248.0)"/><ellipse cx="389.9" cy="268.0" rx="5.8" ry="3.3" transform="rotate(16 389.9 268.0)"/><ellipse cx="594.2" cy="198.2" rx="7.0" ry="4.8" transform="rotate(4 594.2 198.2)"/><ellipse cx="539.6" cy="249.2" rx="7.0" ry="6.7" transform="rotate(23 539.6 249.2)"/><ellipse cx="529.0" cy="265.8" rx="7.3" ry="5.2" transform="rotate(30 529.0 265.8)"/><ellipse cx="566.0" cy="239.0" rx="6.3" ry="5.7" transform="rotate(10 566.0 239.0)"/><ellipse cx="542.6" cy="194.0" rx="7.2" ry="4.2" transform="rotate(8 542.6 194.0)"/><ellipse cx="531.9" cy="232.9" rx="6.5" ry="4.2" transform="rotate(9 531.9 232.9)"/><ellipse cx="389.4" cy="216.8" rx="7.3" ry="4.9" transform="rotate(14 389.4 216.8)"/><ellipse cx="575.3" cy="246.6" rx="5.9" ry="3.7" transform="rotate(-5 575.3 246.6)"/><ellipse cx="525.0" cy="208.5" rx="7.3" ry="5.1" transform="rotate(-6 525.0 208.5)"/><ellipse cx="568.6" cy="194.1" rx="5.6" ry="3.2" transform="rotate(17 568.6 194.1)"/><ellipse cx="428.6" cy="231.2" rx="7.4" ry="6.4" transform="rotate(-26 428.6 231.2)"/><ellipse cx="517.0" cy="268.1" rx="4.0" ry="3.2" transform="rotate(-10 517.0 268.1)"/><ellipse cx="552.7" cy="270.0" rx="4.6" ry="4.4" transform="rotate(-3 552.7 270.0)"/><ellipse cx="555.6" cy="195.7" rx="4.5" ry="2.8" transform="rotate(24 555.6 195.7)"/><ellipse cx="489.1" cy="270.2" rx="4.8" ry="4.7" transform="rotate(-33 489.1 270.2)"/><ellipse cx="446.6" cy="252.6" rx="4.1" ry="3.4" transform="rotate(11 446.6 252.6)"/><ellipse cx="494.0" cy="224.8" rx="3.8" ry="3.8" transform="rotate(24 494.0 224.8)"/><ellipse cx="530.7" cy="196.6" rx="4.6" ry="3.7" transform="rotate(3 530.7 196.6)"/><ellipse cx="515.8" cy="199.5" rx="4.3" ry="3.2" transform="rotate(18 515.8 199.5)"/><ellipse cx="464.6" cy="225.8" rx="4.5" ry="3.6" transform="rotate(2 464.6 225.8)"/><ellipse cx="414.4" cy="211.8" rx="5.2" ry="5.0" transform="rotate(18 414.4 211.8)"/><ellipse cx="470.3" cy="248.9" rx="4.9" ry="3.3" transform="rotate(-39 470.3 248.9)"/><ellipse cx="577.0" cy="272.7" rx="4.1" ry="3.6" transform="rotate(-31 577.0 272.7)"/><ellipse cx="562.2" cy="275.2" rx="4.1" ry="2.8" transform="rotate(34 562.2 275.2)"/><ellipse cx="388.6" cy="250.1" rx="4.4" ry="3.7" transform="rotate(28 388.6 250.1)"/><ellipse cx="540.9" cy="225.1" rx="4.1" ry="3.2" transform="rotate(-24 540.9 225.1)"/><ellipse cx="400.7" cy="219.9" rx="4.4" ry="3.9" transform="rotate(-2 400.7 219.9)"/><ellipse cx="396.2" cy="207.2" rx="4.2" ry="3.2" transform="rotate(-10 396.2 207.2)"/><ellipse cx="474.0" cy="235.4" rx="3.9" ry="3.8" transform="rotate(8 474.0 235.4)"/><ellipse cx="418.4" cy="255.1" rx="4.1" ry="2.6" transform="rotate(-9 418.4 255.1)"/><ellipse cx="573.3" cy="257.6" rx="4.1" ry="2.7" transform="rotate(10 573.3 257.6)"/><ellipse cx="543.7" cy="207.2" rx="4.6" ry="4.0" transform="rotate(-20 543.7 207.2)"/><ellipse cx="457.8" cy="254.0" rx="4.5" ry="3.1" transform="rotate(27 457.8 254.0)"/><ellipse cx="555.8" cy="243.8" rx="3.9" ry="2.6" transform="rotate(22 555.8 243.8)"/><ellipse cx="439.8" cy="259.5" rx="4.1" ry="3.2" transform="rotate(-10 439.8 259.5)"/><ellipse cx="454.2" cy="237.2" rx="4.7" ry="4.7" transform="rotate(20 454.2 237.2)"/><ellipse cx="463.3" cy="199.4" rx="5.1" ry="4.0" transform="rotate(30 463.3 199.4)"/><ellipse cx="504.2" cy="231.8" rx="3.9" ry="2.5" transform="rotate(15 504.2 231.8)"/><ellipse cx="449.8" cy="217.9" rx="4.4" ry="4.1" transform="rotate(-8 449.8 217.9)"/><ellipse cx="390.7" cy="234.5" rx="5.0" ry="3.7" transform="rotate(4 390.7 234.5)"/><ellipse cx="546.4" cy="235.0" rx="4.1" ry="2.9" transform="rotate(21 546.4 235.0)"/><ellipse cx="398.9" cy="229.7" rx="4.9" ry="3.4" transform="rotate(7 398.9 229.7)"/><ellipse cx="584.8" cy="259.1" rx="4.1" ry="2.6" transform="rotate(-9 584.8 259.1)"/><ellipse cx="443.4" cy="274.4" rx="4.5" ry="3.7" transform="rotate(13 443.4 274.4)"/><ellipse cx="593.9" cy="213.6" rx="4.5" ry="3.9" transform="rotate(3 593.9 213.6)"/><ellipse cx="483.8" cy="251.6" rx="3.9" ry="2.9" transform="rotate(-11 483.8 251.6)"/><ellipse cx="594.0" cy="258.9" rx="4.4" ry="2.8" transform="rotate(-23 594.0 258.9)"/><ellipse cx="464.6" cy="236.5" rx="4.7" ry="3.4" transform="rotate(-16 464.6 236.5)"/><ellipse cx="433.3" cy="203.8" rx="4.6" ry="3.0" transform="rotate(-30 433.3 203.8)"/><ellipse cx="546.5" cy="260.1" rx="4.5" ry="3.9" transform="rotate(-9 546.5 260.1)"/><ellipse cx="535.5" cy="274.7" rx="4.5" ry="3.0" transform="rotate(1 535.5 274.7)"/><ellipse cx="411.7" cy="273.3" rx="4.3" ry="3.4" transform="rotate(-29 411.7 273.3)"/><ellipse cx="441.0" cy="238.9" rx="4.0" ry="3.3" transform="rotate(-13 441.0 238.9)"/><ellipse cx="561.4" cy="262.6" rx="4.5" ry="4.5" transform="rotate(-7 561.4 262.6)"/><ellipse cx="575.4" cy="218.0" rx="4.5" ry="3.6" transform="rotate(-36 575.4 218.0)"/><ellipse cx="496.2" cy="211.0" rx="3.9" ry="3.4" transform="rotate(-15 496.2 211.0)"/><ellipse cx="400.0" cy="268.2" rx="4.4" ry="3.1" transform="rotate(37 400.0 268.2)"/><ellipse cx="516.2" cy="235.3" rx="3.9" ry="2.9" transform="rotate(-19 516.2 235.3)"/><ellipse cx="557.9" cy="205.1" rx="4.6" ry="3.0" transform="rotate(-20 557.9 205.1)"/><ellipse cx="462.1" cy="208.9" rx="3.9" ry="3.0" transform="rotate(38 462.1 208.9)"/><ellipse cx="483.9" cy="216.7" rx="4.1" ry="2.9" transform="rotate(-4 483.9 216.7)"/><ellipse cx="530.9" cy="221.4" rx="4.3" ry="2.8" transform="rotate(-18 530.9 221.4)"/><ellipse cx="417.2" cy="241.4" rx="4.1" ry="2.6" transform="rotate(-37 417.2 241.4)"/><ellipse cx="567.5" cy="209.9" rx="4.4" ry="3.3" transform="rotate(-17 567.5 209.9)"/><ellipse cx="394.1" cy="192.5" rx="4.3" ry="3.0" transform="rotate(10 394.1 192.5)"/><ellipse cx="420.1" cy="263.9" rx="4.9" ry="3.9" transform="rotate(30 420.1 263.9)"/><ellipse cx="492.2" cy="258.6" rx="3.9" ry="2.8" transform="rotate(-9 492.2 258.6)"/><ellipse cx="424.5" cy="191.9" rx="4.7" ry="3.4" transform="rotate(7 424.5 191.9)"/><ellipse cx="560.4" cy="251.9" rx="5.2" ry="4.1" transform="rotate(-26 560.4 251.9)"/><ellipse cx="470.3" cy="217.9" rx="3.8" ry="3.1" transform="rotate(3 470.3 217.9)"/><ellipse cx="592.9" cy="227.2" rx="4.9" ry="3.2" transform="rotate(37 592.9 227.2)"/><ellipse cx="476.1" cy="192.2" rx="4.1" ry="3.6" transform="rotate(-13 476.1 192.2)"/><ellipse cx="488.0" cy="191.8" rx="4.1" ry="3.7" transform="rotate(-7 488.0 191.8)"/><ellipse cx="438.1" cy="192.5" rx="4.8" ry="3.5" transform="rotate(3 438.1 192.5)"/><ellipse cx="505.6" cy="274.9" rx="3.9" ry="2.5" transform="rotate(15 505.6 274.9)"/><ellipse cx="509.7" cy="249.0" rx="3.8" ry="3.1" transform="rotate(9 509.7 249.0)"/><ellipse cx="583.0" cy="196.4" rx="4.0" ry="2.9" transform="rotate(-25 583.0 196.4)"/><ellipse cx="425.0" cy="245.8" rx="4.2" ry="3.1" transform="rotate(15 425.0 245.8)"/><ellipse cx="450.8" cy="263.6" rx="4.6" ry="3.7" transform="rotate(1 450.8 263.6)"/><ellipse cx="520.4" cy="192.5" rx="4.3" ry="2.9" transform="rotate(-22 520.4 192.5)"/><ellipse cx="507.8" cy="191.0" rx="4.1" ry="3.4" transform="rotate(39 507.8 191.0)"/><ellipse cx="539.8" cy="265.8" rx="3.8" ry="2.7" transform="rotate(22 539.8 265.8)"/><ellipse cx="475.6" cy="272.3" rx="4.7" ry="4.2" transform="rotate(-2 475.6 272.3)"/><ellipse cx="420.2" cy="221.0" rx="4.7" ry="3.7" transform="rotate(-5 420.2 221.0)"/><ellipse cx="586.8" cy="220.2" rx="4.2" ry="3.1" transform="rotate(-21 586.8 220.2)"/><ellipse cx="512.6" cy="210.8" rx="4.0" ry="2.8" transform="rotate(-38 512.6 210.8)"/><ellipse cx="548.0" cy="215.4" rx="3.9" ry="2.8" transform="rotate(-32 548.0 215.4)"/><ellipse cx="544.0" cy="274.8" rx="4.2" ry="3.4" transform="rotate(33 544.0 274.8)"/><ellipse cx="503.4" cy="242.7" rx="3.9" ry="2.9" transform="rotate(-3 503.4 242.7)"/><ellipse cx="499.5" cy="252.9" rx="4.4" ry="3.0" transform="rotate(28 499.5 252.9)"/><ellipse cx="584.5" cy="269.4" rx="3.6" ry="3.1" transform="rotate(-11 584.5 269.4)"/><ellipse cx="452.1" cy="247.3" rx="3.2" ry="2.7" transform="rotate(13 452.1 247.3)"/><ellipse cx="424.9" cy="208.9" rx="3.6" ry="2.9" transform="rotate(3 424.9 208.9)"/><ellipse cx="390.3" cy="200.4" rx="2.9" ry="2.7" transform="rotate(-20 390.3 200.4)"/><ellipse cx="522.1" cy="218.4" rx="2.8" ry="2.3" transform="rotate(1 522.1 218.4)"/><ellipse cx="405.1" cy="205.3" rx="3.7" ry="3.6" transform="rotate(24 405.1 205.3)"/><ellipse cx="479.5" cy="244.9" rx="2.8" ry="2.2" transform="rotate(23 479.5 244.9)"/><ellipse cx="458.7" cy="192.0" rx="2.8" ry="2.5" transform="rotate(-24 458.7 192.0)"/><ellipse cx="520.2" cy="259.1" rx="3.1" ry="3.0" transform="rotate(-10 520.2 259.1)"/><ellipse cx="398.1" cy="254.3" rx="3.0" ry="2.7" transform="rotate(23 398.1 254.3)"/><ellipse cx="482.3" cy="262.1" rx="2.9" ry="2.9" transform="rotate(-20 482.3 262.1)"/><ellipse cx="484.9" cy="238.8" rx="3.4" ry="2.9" transform="rotate(21 484.9 238.8)"/><ellipse cx="413.9" cy="248.9" rx="2.9" ry="2.5" transform="rotate(38 413.9 248.9)"/><ellipse cx="390.9" cy="258.9" rx="3.7" ry="3.6" transform="rotate(22 390.9 258.9)"/><ellipse cx="570.7" cy="202.6" rx="3.0" ry="2.9" transform="rotate(-40 570.7 202.6)"/><ellipse cx="556.8" cy="212.6" rx="2.9" ry="2.6" transform="rotate(-24 556.8 212.6)"/><ellipse cx="488.2" cy="200.6" rx="3.3" ry="3.1" transform="rotate(-23 488.2 200.6)"/><ellipse cx="411.8" cy="236.1" rx="3.4" ry="2.9" transform="rotate(-22 411.8 236.1)"/><ellipse cx="444.4" cy="209.4" rx="3.4" ry="3.2" transform="rotate(5 444.4 209.4)"/><ellipse cx="504.7" cy="215.7" rx="3.4" ry="2.8" transform="rotate(37 504.7 215.7)"/><ellipse cx="498.1" cy="272.9" rx="2.8" ry="2.6" transform="rotate(24 498.1 272.9)"/><ellipse cx="453.9" cy="225.4" rx="3.4" ry="2.7" transform="rotate(-29 453.9 225.4)"/><ellipse cx="493.1" cy="234.1" rx="3.0" ry="2.3" transform="rotate(9 493.1 234.1)"/><ellipse cx="551.3" cy="222.2" rx="3.1" ry="2.7" transform="rotate(-5 551.3 222.2)"/><ellipse cx="466.9" cy="273.4" rx="3.5" ry="2.8" transform="rotate(-32 466.9 273.4)"/><ellipse cx="537.7" cy="213.6" rx="3.6" ry="3.2" transform="rotate(33 537.7 213.6)"/><ellipse cx="513.2" cy="275.2" rx="3.2" ry="3.1" transform="rotate(24 513.2 275.2)"/><ellipse cx="535.2" cy="204.6" rx="3.0" ry="2.9" transform="rotate(-29 535.2 204.6)"/><ellipse cx="421.4" cy="200.2" rx="3.6" ry="3.5" transform="rotate(32 421.4 200.2)"/><ellipse cx="398.0" cy="199.5" rx="3.2" ry="3.1" transform="rotate(-33 398.0 199.5)"/><ellipse cx="385.5" cy="190.2" rx="3.0" ry="2.3" transform="rotate(-23 385.5 190.2)"/><ellipse cx="476.2" cy="222.1" rx="2.9" ry="2.7" transform="rotate(-24 476.2 222.1)"/><ellipse cx="511.0" cy="240.1" rx="3.0" ry="2.5" transform="rotate(-7 511.0 240.1)"/><ellipse cx="473.5" cy="200.1" rx="3.2" ry="2.5" transform="rotate(4 473.5 200.1)"/><ellipse cx="461.2" cy="244.3" rx="3.0" ry="2.7" transform="rotate(-26 461.2 244.3)"/><ellipse cx="475.6" cy="255.2" rx="2.8" ry="2.2" transform="rotate(-28 475.6 255.2)"/><ellipse cx="522.7" cy="227.8" rx="3.0" ry="3.0" transform="rotate(36 522.7 227.8)"/><ellipse cx="470.9" cy="207.2" rx="2.8" ry="2.3" transform="rotate(-3 470.9 207.2)"/><ellipse cx="553.8" cy="230.8" rx="3.6" ry="3.4" transform="rotate(37 553.8 230.8)"/><ellipse cx="587.1" cy="235.4" rx="3.1" ry="3.0" transform="rotate(10 587.1 235.4)"/><ellipse cx="573.9" cy="265.4" rx="3.4" ry="2.6" transform="rotate(-35 573.9 265.4)"/><ellipse cx="415.9" cy="190.5" rx="3.2" ry="2.4" transform="rotate(-8 415.9 190.5)"/><ellipse cx="577.6" cy="190.6" rx="3.3" ry="2.9" transform="rotate(-19 577.6 190.6)"/><ellipse cx="524.2" cy="276.0" rx="3.2" ry="2.8" transform="rotate(-11 524.2 276.0)"/><ellipse cx="391.3" cy="242.6" rx="2.9" ry="2.5" transform="rotate(24 391.3 242.6)"/><ellipse cx="394.3" cy="276.0" rx="3.3" ry="2.8" transform="rotate(9 394.3 276.0)"/><ellipse cx="459.5" cy="218.8" rx="3.4" ry="3.3" transform="rotate(-36 459.5 218.8)"/><ellipse cx="454.9" cy="210.0" rx="2.9" ry="2.3" transform="rotate(29 454.9 210.0)"/><ellipse cx="386.1" cy="206.0" rx="3.1" ry="2.8" transform="rotate(-35 386.1 206.0)"/><ellipse cx="413.9" cy="202.6" rx="2.9" ry="2.2" transform="rotate(-35 413.9 202.6)"/><ellipse cx="596.2" cy="240.3" rx="2.8" ry="2.5" transform="rotate(-18 596.2 240.3)"/><ellipse cx="412.0" cy="265.0" rx="2.9" ry="2.5" transform="rotate(20 412.0 265.0)"/><ellipse cx="427.0" cy="255.9" rx="2.9" ry="2.3" transform="rotate(16 427.0 255.9)"/><ellipse cx="468.2" cy="192.4" rx="3.2" ry="3.0" transform="rotate(0 468.2 192.4)"/><ellipse cx="420.2" cy="275.0" rx="3.5" ry="3.0" transform="rotate(-1 420.2 275.0)"/><ellipse cx="595.6" cy="249.5" rx="2.9" ry="2.2" transform="rotate(34 595.6 249.5)"/><ellipse cx="595.6" cy="234.2" rx="2.2" ry="2.2" transform="rotate(-39 595.6 234.2)"/><ellipse cx="495.0" cy="204.5" rx="1.8" ry="1.6" transform="rotate(14 495.0 204.5)"/><ellipse cx="443.5" cy="266.6" rx="1.9" ry="1.7" transform="rotate(-39 443.5 266.6)"/><ellipse cx="549.7" cy="251.4" rx="2.1" ry="2.0" transform="rotate(-9 549.7 251.4)"/><ellipse cx="534.0" cy="190.1" rx="2.0" ry="1.9" transform="rotate(28 534.0 190.1)"/><ellipse cx="517.8" cy="214.0" rx="1.8" ry="1.6" transform="rotate(19 517.8 214.0)"/><ellipse cx="563.0" cy="199.4" rx="2.2" ry="2.1" transform="rotate(-30 563.0 199.4)"/><ellipse cx="514.8" cy="254.1" rx="1.8" ry="1.7" transform="rotate(35 514.8 254.1)"/><ellipse cx="566.8" cy="270.4" rx="2.1" ry="1.9" transform="rotate(-32 566.8 270.4)"/><ellipse cx="569.3" cy="277.1" rx="1.7" ry="1.5" transform="rotate(8 569.3 277.1)"/><ellipse cx="405.4" cy="213.5" rx="2.3" ry="2.2" transform="rotate(26 405.4 213.5)"/><ellipse cx="429.8" cy="275.8" rx="1.8" ry="1.8" transform="rotate(24 429.8 275.8)"/><ellipse cx="537.5" cy="239.3" rx="1.8" ry="1.7" transform="rotate(-13 537.5 239.3)"/><ellipse cx="488.5" cy="208.3" rx="1.9" ry="1.7" transform="rotate(-32 488.5 208.3)"/><ellipse cx="566.7" cy="257.5" rx="1.9" ry="1.6" transform="rotate(25 566.7 257.5)"/><ellipse cx="386.0" cy="228.6" rx="1.7" ry="1.4" transform="rotate(-36 386.0 228.6)"/><ellipse cx="497.1" cy="265.4" rx="1.8" ry="1.6" transform="rotate(-19 497.1 265.4)"/><ellipse cx="579.6" cy="239.5" rx="2.2" ry="2.0" transform="rotate(4 579.6 239.5)"/><ellipse cx="458.5" cy="262.4" rx="2.7" ry="2.6" transform="rotate(31 458.5 262.4)"/><ellipse cx="557.1" cy="236.2" rx="1.6" ry="1.4" transform="rotate(-29 557.1 236.2)"/><ellipse cx="523.8" cy="236.8" rx="1.6" ry="1.6" transform="rotate(-10 523.8 236.8)"/><ellipse cx="429.0" cy="199.0" rx="1.7" ry="1.5" transform="rotate(-33 429.0 199.0)"/><ellipse cx="590.1" cy="190.4" rx="1.9" ry="1.7" transform="rotate(-29 590.1 190.4)"/><ellipse cx="417.3" cy="195.5" rx="1.6" ry="1.4" transform="rotate(38 417.3 195.5)"/><ellipse cx="578.6" cy="261.6" rx="1.8" ry="1.7" transform="rotate(3 578.6 261.6)"/><ellipse cx="417.9" cy="232.1" rx="2.4" ry="2.4" transform="rotate(-6 417.9 232.1)"/><ellipse cx="401.0" cy="276.1" rx="2.3" ry="2.3" transform="rotate(-2 401.0 276.1)"/><ellipse cx="553.8" cy="258.8" rx="2.0" ry="1.8" transform="rotate(-13 553.8 258.8)"/><ellipse cx="523.4" cy="199.5" rx="1.8" ry="1.7" transform="rotate(-12 523.4 199.5)"/><ellipse cx="576.7" cy="198.3" rx="1.7" ry="1.5" transform="rotate(9 576.7 198.3)"/><ellipse cx="446.8" cy="242.5" rx="2.2" ry="2.0" transform="rotate(-3 446.8 242.5)"/><ellipse cx="581.1" cy="252.0" rx="2.2" ry="1.9" transform="rotate(24 581.1 252.0)"/><ellipse cx="432.6" cy="258.8" rx="1.7" ry="1.7" transform="rotate(1 432.6 258.8)"/><ellipse cx="549.5" cy="199.1" rx="2.0" ry="1.9" transform="rotate(7 549.5 199.1)"/><ellipse cx="456.3" cy="202.9" rx="2.3" ry="2.3" transform="rotate(-36 456.3 202.9)"/><ellipse cx="549.3" cy="241.1" rx="2.3" ry="2.0" transform="rotate(-29 549.3 241.1)"/><ellipse cx="494.1" cy="276.9" rx="1.9" ry="1.8" transform="rotate(39 494.1 276.9)"/><ellipse cx="491.2" cy="217.0" rx="2.7" ry="2.5" transform="rotate(36 491.2 217.0)"/><ellipse cx="384.5" cy="259.7" rx="1.9" ry="1.8" transform="rotate(1 384.5 259.7)"/><ellipse cx="386.0" cy="242.1" rx="1.6" ry="1.5" transform="rotate(34 386.0 242.1)"/><ellipse cx="413.1" cy="259.5" rx="1.6" ry="1.4" transform="rotate(39 413.1 259.5)"/><ellipse cx="590.9" cy="265.5" rx="2.5" ry="2.3" transform="rotate(-13 590.9 265.5)"/><ellipse cx="567.2" cy="247.8" rx="1.6" ry="1.4" transform="rotate(-7 567.2 247.8)"/><ellipse cx="400.9" cy="190.4" rx="2.6" ry="2.5" transform="rotate(9 400.9 190.4)"/><ellipse cx="489.8" cy="252.2" rx="1.8" ry="1.7" transform="rotate(21 489.8 252.2)"/><ellipse cx="387.5" cy="276.7" rx="1.8" ry="1.7" transform="rotate(36 387.5 276.7)"/><ellipse cx="596.7" cy="265.1" rx="2.0" ry="1.8" transform="rotate(22 596.7 265.1)"/><ellipse cx="500.0" cy="221.4" rx="2.2" ry="2.0" transform="rotate(-37 500.0 221.4)"/><ellipse cx="435.6" cy="275.7" rx="1.6" ry="1.4" transform="rotate(-10 435.6 275.7)"/><ellipse cx="471.4" cy="228.9" rx="2.4" ry="2.1" transform="rotate(4 471.4 228.9)"/><ellipse cx="391.2" cy="225.6" rx="1.7" ry="1.7" transform="rotate(-12 391.2 225.6)"/><ellipse cx="440.6" cy="203.9" rx="1.6" ry="1.4" transform="rotate(26 440.6 203.9)"/><ellipse cx="444.5" cy="189.9" rx="1.7" ry="1.5" transform="rotate(-35 444.5 189.9)"/><ellipse cx="530.9" cy="256.6" rx="1.7" ry="1.6" transform="rotate(-14 530.9 256.6)"/><ellipse cx="430.9" cy="243.4" rx="1.8" ry="1.6" transform="rotate(39 430.9 243.4)"/><ellipse cx="551.5" cy="208.9" rx="1.7" ry="1.5" transform="rotate(17 551.5 208.9)"/><ellipse cx="568.3" cy="216.3" rx="1.6" ry="1.4" transform="rotate(24 568.3 216.3)"/><ellipse cx="481.8" cy="199.1" rx="2.1" ry="1.9" transform="rotate(9 481.8 199.1)"/><ellipse cx="560.0" cy="190.0" rx="2.4" ry="2.1" transform="rotate(20 560.0 190.0)"/><ellipse cx="477.2" cy="216.1" rx="2.0" ry="2.0" transform="rotate(35 477.2 216.1)"/><ellipse cx="431.3" cy="189.9" rx="1.8" ry="1.6" transform="rotate(-7 431.3 189.9)"/><ellipse cx="510.2" cy="234.6" rx="1.6" ry="1.6" transform="rotate(22 510.2 234.6)"/><ellipse cx="499.1" cy="237.3" rx="2.2" ry="2.0" transform="rotate(-5 499.1 237.3)"/><ellipse cx="532.3" cy="242.2" rx="2.2" ry="2.1" transform="rotate(-29 532.3 242.2)"/><ellipse cx="570.6" cy="230.4" rx="1.3" ry="1.2" transform="rotate(37 570.6 230.4)"/><ellipse cx="535.4" cy="260.0" rx="1.5" ry="1.4" transform="rotate(3 535.4 260.0)"/><ellipse cx="450.7" cy="230.1" rx="1.4" ry="1.3" transform="rotate(-35 450.7 230.1)"/><ellipse cx="430.9" cy="194.2" rx="1.4" ry="1.3" transform="rotate(20 430.9 194.2)"/><ellipse cx="484.6" cy="257.1" rx="1.3" ry="1.3" transform="rotate(23 484.6 257.1)"/><ellipse cx="406.3" cy="266.7" rx="1.6" ry="1.5" transform="rotate(-24 406.3 266.7)"/><ellipse cx="549.6" cy="245.9" rx="1.3" ry="1.2" transform="rotate(-36 549.6 245.9)"/><ellipse cx="582.8" cy="276.6" rx="1.4" ry="1.3" transform="rotate(-8 582.8 276.6)"/><ellipse cx="384.2" cy="264.0" rx="1.3" ry="1.2" transform="rotate(25 384.2 264.0)"/><ellipse cx="419.0" cy="249.3" rx="1.3" ry="1.3" transform="rotate(1 419.0 249.3)"/><ellipse cx="544.2" cy="241.3" rx="1.3" ry="1.3" transform="rotate(24 544.2 241.3)"/><ellipse cx="524.8" cy="222.6" rx="1.5" ry="1.4" transform="rotate(24 524.8 222.6)"/><ellipse cx="498.1" cy="216.9" rx="1.6" ry="1.5" transform="rotate(17 498.1 216.9)"/><ellipse cx="593.2" cy="220.1" rx="1.3" ry="1.3" transform="rotate(17 593.2 220.1)"/><ellipse cx="464.5" cy="214.7" rx="1.7" ry="1.7" transform="rotate(-2 464.5 214.7)"/><ellipse cx="488.3" cy="221.4" rx="1.4" ry="1.4" transform="rotate(9 488.3 221.4)"/><ellipse cx="529.7" cy="277.4" rx="1.4" ry="1.3" transform="rotate(5 529.7 277.4)"/><ellipse cx="505.2" cy="210.0" rx="1.3" ry="1.2" transform="rotate(38 505.2 210.0)"/><ellipse cx="404.7" cy="272.7" rx="1.6" ry="1.5" transform="rotate(-18 404.7 272.7)"/><ellipse cx="408.2" cy="217.6" rx="1.6" ry="1.5" transform="rotate(2 408.2 217.6)"/><ellipse cx="447.3" cy="234.5" rx="1.3" ry="1.3" transform="rotate(-26 447.3 234.5)"/><ellipse cx="462.5" cy="249.9" rx="1.5" ry="1.5" transform="rotate(-19 462.5 249.9)"/><ellipse cx="440.4" cy="221.6" rx="1.4" ry="1.4" transform="rotate(9 440.4 221.6)"/><ellipse cx="384.4" cy="196.0" rx="1.4" ry="1.3" transform="rotate(15 384.4 196.0)"/><ellipse cx="403.8" cy="233.8" rx="1.3" ry="1.2" transform="rotate(34 403.8 233.8)"/><ellipse cx="425.1" cy="216.0" rx="1.8" ry="1.6" transform="rotate(-9 425.1 216.0)"/><ellipse cx="449.2" cy="277.1" rx="1.2" ry="1.1" transform="rotate(16 449.2 277.1)"/><ellipse cx="438.7" cy="269.1" rx="1.4" ry="1.2" transform="rotate(-7 438.7 269.1)"/><ellipse cx="562.6" cy="214.8" rx="1.5" ry="1.4" transform="rotate(32 562.6 214.8)"/><ellipse cx="573.1" cy="224.4" rx="1.6" ry="1.4" transform="rotate(35 573.1 224.4)"/><ellipse cx="553.6" cy="253.9" rx="1.5" ry="1.4" transform="rotate(21 553.6 253.9)"/><ellipse cx="488.6" cy="212.5" rx="1.4" ry="1.3" transform="rotate(18 488.6 212.5)"/><ellipse cx="473.3" cy="242.7" rx="1.5" ry="1.4" transform="rotate(-35 473.3 242.7)"/><ellipse cx="554.1" cy="277.2" rx="1.6" ry="1.5" transform="rotate(19 554.1 277.2)"/><ellipse cx="540.1" cy="233.7" rx="1.8" ry="1.6" transform="rotate(12 540.1 233.7)"/><ellipse cx="409.7" cy="251.9" rx="1.3" ry="1.1" transform="rotate(27 409.7 251.9)"/><ellipse cx="564.8" cy="203.8" rx="1.7" ry="1.5" transform="rotate(10 564.8 203.8)"/><ellipse cx="568.5" cy="251.3" rx="1.2" ry="1.1" transform="rotate(39 568.5 251.3)"/><ellipse cx="478.0" cy="249.9" rx="1.5" ry="1.5" transform="rotate(10 478.0 249.9)"/><ellipse cx="587.3" cy="202.3" rx="1.3" ry="1.2" transform="rotate(39 587.3 202.3)"/><ellipse cx="456.4" cy="230.5" rx="1.4" ry="1.3" transform="rotate(9 456.4 230.5)"/><ellipse cx="419.7" cy="206.3" rx="1.3" ry="1.3" transform="rotate(-31 419.7 206.3)"/><ellipse cx="574.1" cy="207.6" rx="1.4" ry="1.3" transform="rotate(-36 574.1 207.6)"/><ellipse cx="467.4" cy="211.5" rx="1.4" ry="1.3" transform="rotate(20 467.4 211.5)"/><ellipse cx="473.9" cy="212.7" rx="1.4" ry="1.3" transform="rotate(-0 473.9 212.7)"/><ellipse cx="547.9" cy="227.4" rx="1.4" ry="1.3" transform="rotate(-18 547.9 227.4)"/><ellipse cx="434.4" cy="240.7" rx="1.3" ry="1.3" transform="rotate(37 434.4 240.7)"/><ellipse cx="586.0" cy="253.4" rx="1.4" ry="1.4" transform="rotate(-38 586.0 253.4)"/><ellipse cx="526.7" cy="190.2" rx="1.5" ry="1.5" transform="rotate(-39 526.7 190.2)"/><ellipse cx="481.7" cy="276.9" rx="1.6" ry="1.4" transform="rotate(-30 481.7 276.9)"/><ellipse cx="397.3" cy="213.6" rx="1.5" ry="1.4" transform="rotate(35 397.3 213.6)"/><ellipse cx="424.2" cy="251.5" rx="1.3" ry="1.3" transform="rotate(-30 424.2 251.5)"/><ellipse cx="554.7" cy="189.2" rx="1.6" ry="1.6" transform="rotate(16 554.7 189.2)"/><ellipse cx="550.0" cy="189.9" rx="1.2" ry="1.1" transform="rotate(-21 550.0 189.9)"/><ellipse cx="449.4" cy="189.3" rx="1.4" ry="1.4" transform="rotate(-27 449.4 189.3)"/><ellipse cx="579.4" cy="265.7" rx="1.4" ry="1.3" transform="rotate(15 579.4 265.7)"/><ellipse cx="461.8" cy="277.2" rx="1.2" ry="1.2" transform="rotate(23 461.8 277.2)"/><ellipse cx="545.1" cy="267.1" rx="1.4" ry="1.3" transform="rotate(23 545.1 267.1)"/><ellipse cx="583.2" cy="189.1" rx="1.3" ry="1.2" transform="rotate(30 583.2 189.1)"/><ellipse cx="497.7" cy="230.6" rx="1.3" ry="1.2" transform="rotate(15 497.7 230.6)"/><ellipse cx="384.2" cy="200.0" rx="1.3" ry="1.2" transform="rotate(-35 384.2 200.0)"/><ellipse cx="559.3" cy="269.3" rx="1.2" ry="1.2" transform="rotate(17 559.3 269.3)"/><ellipse cx="539.6" cy="259.2" rx="1.8" ry="1.7" transform="rotate(0 539.6 259.2)"/><ellipse cx="481.8" cy="267.4" rx="1.2" ry="1.1" transform="rotate(2 481.8 267.4)"/><ellipse cx="567.4" cy="266.3" rx="1.2" ry="1.2" transform="rotate(40 567.4 266.3)"/><ellipse cx="443.0" cy="218.4" rx="1.5" ry="1.5" transform="rotate(-19 443.0 218.4)"/><ellipse cx="553.5" cy="216.7" rx="1.3" ry="1.2" transform="rotate(19 553.5 216.7)"/><ellipse cx="590.2" cy="207.7" rx="1.5" ry="1.4" transform="rotate(-7 590.2 207.7)"/><ellipse cx="470.8" cy="224.2" rx="1.4" ry="1.4" transform="rotate(13 470.8 224.2)"/><ellipse cx="435.8" cy="225.1" rx="1.2" ry="1.2" transform="rotate(-34 435.8 225.1)"/><ellipse cx="411.4" cy="242.6" rx="1.6" ry="1.5" transform="rotate(39 411.4 242.6)"/><ellipse cx="396.8" cy="261.8" rx="1.2" ry="1.2" transform="rotate(22 396.8 261.8)"/><ellipse cx="516.1" cy="229.4" rx="1.6" ry="1.5" transform="rotate(-36 516.1 229.4)"/><ellipse cx="401.2" cy="211.0" rx="1.7" ry="1.6" transform="rotate(-12 401.2 211.0)"/><ellipse cx="469.5" cy="240.9" rx="1.4" ry="1.3" transform="rotate(17 469.5 240.9)"/><ellipse cx="561.6" cy="194.6" rx="1.3" ry="1.2" transform="rotate(-11 561.6 194.6)"/><ellipse cx="500.5" cy="226.1" rx="1.2" ry="1.1" transform="rotate(4 500.5 226.1)"/><ellipse cx="501.7" cy="189.9" rx="1.4" ry="1.4" transform="rotate(23 501.7 189.9)"/><ellipse cx="453.4" cy="190.7" rx="1.7" ry="1.7" transform="rotate(-8 453.4 190.7)"/><ellipse cx="477.4" cy="265.1" rx="1.2" ry="1.1" transform="rotate(16 477.4 265.1)"/></g>
<g id="drainL"><path d="M490.65 207C470 207 450 208.5 440 211.5Q434.4 213 433.6 220L429 251L424 260L420 266L418 283H490.65Z" fill="#fff"/><path d="M439 276.3L445 220Q448.0 215 451 220L447.5 276.3Z" fill="none" stroke="#3aa8b0" stroke-width="1"/><path d="M440.3 276L446.2 221M439.8 267.8H447.0" stroke="#3aa8b0" stroke-width="0.7" fill="none"/><path d="M452 276.3L456 220Q459.5 215 463 220L462 276.3Z" fill="none" stroke="#3aa8b0" stroke-width="1"/><path d="M453.3 276L457.2 221M452.8 267.8H461.5" stroke="#3aa8b0" stroke-width="0.7" fill="none"/><path d="M467 276.3L469 220Q472.8 215 476.6 220L476.6 276.3Z" fill="none" stroke="#3aa8b0" stroke-width="1"/><path d="M468.3 276L470.2 221M467.8 267.8H476.1" stroke="#3aa8b0" stroke-width="0.7" fill="none"/><path d="M490.65 209.3C470 209.3 452 210.8 441 214Q436.5 215.5 435.7 222L431.2 252" fill="none" stroke="#484848" stroke-width="4.6"/><path d="M429.6 250L435.8 250L430.3 265.7L427.3 266V281H418.9V265.7L422.7 262L425 257Z" fill="url(#dk)"/><path d="M417.6 281H438.3V283.7H417.6ZM433.7 283.7H438.8V301.7H433.7ZM422.7 283.7H428.5V301.7H422.7ZM434.3 301.7H440V312H434.3ZM434.3 312H452.3V317.5H434.3ZM435.6 317.5H443.3V353H435.6ZM417.6 299H440V303H417.6Z" fill="url(#dk)"/><rect x="441.4" y="323.6" width="3.6" height="28" fill="#111"/><rect x="415.2" y="267" width="3.6" height="14.5" fill="#e8ffff" stroke="#3aa8b0" stroke-width="0.8"/><path d="M429.5 272H436V296H429.5Z" fill="#a8d4d4" stroke="#3aa8b0" stroke-width="0.8"/><path d="M429.5 275H436M429.5 278H436M429.5 281H436M429.5 284H436M429.5 287H436M429.5 290H436M429.5 293H436M432.7 263V272M429 268H436.5" stroke="#3aa8b0" stroke-width="0.6"/><path d="M416.5 288H422.3V302H416.5Z" fill="#a8d4d4" stroke="#3aa8b0" stroke-width="0.8"/><path d="M416.5 291H422.3M416.5 294H422.3M416.5 297H422.3M416.5 300H422.3" stroke="#3aa8b0" stroke-width="0.6"/><path d="M437.5 277H490.65M437.5 280H490.65M438.5 283.6H490.65M441 309H490.65M441 311.5H490.65M444.5 317.6H490.65M445 320H490.65M444.5 353H490.65M451 320V353" stroke="#3aa8b0" stroke-width="1" fill="none"/><path d="M438.5 284L441 309" stroke="#3aa8b0" stroke-width="1"/></g>
<use href="#drainL" transform="translate(981.3,0) scale(-1,1)"/>
<path d="M485.3 276.3L485.5 220Q490.65 214.5 495.8 220L496 276.3Z" fill="none" stroke="#3aa8b0" stroke-width="1"/>
<path d="M485.8 266H495.5M486 276L488 270M495.3 276L493.3 270" stroke="#3aa8b0" stroke-width="0.7" fill="none"/>
<path d="M436.9 353H544.4" stroke="#3aa8b0" stroke-width="1"/>
<path d="M128.9 140.7L358 173.2M852.4 140.5L648.5 169.8M412.7 151.3H567.9M455 353.2H535M302.3 259V383M678.9 259V383M302.3 376.5H406M414 376.5H594M602 376.5H678.9M653.5 182V320M604 188.1H661M604 243.6H661M604 281.7H661M604 317H661M907.5 145V323M873 150.5H915M873 223.5H915M873 259.5H915M873 317.5H915" stroke="#e01a1a" stroke-width="1" fill="none"/>
<path d="M412.7 144V300M567.9 144V300M464.8 205.7V353.2" stroke="#e87878" stroke-width="0.9"/>
<path d="M490.6 340V372" stroke="#e01a1a" stroke-width="1" stroke-dasharray="12 4"/><path d="M490.6 376V416" stroke="#e01a1a" stroke-width="1.1"/>
<path d="M490.6 280V340" stroke="#e01a1a" stroke-width="1" stroke-dasharray="12 6"/>
<path d="M490.6 217V272" stroke="#e01a1a" stroke-width="1.2"/>
<path d="M406 376.5L409 371L411 381L414 376.5M594 376.5L597 371L599 381L602 376.5" stroke="#e01a1a" stroke-width="1" fill="none"/>
<path d="M353.5 166.7L360.8 173.1L353.5 179.6" stroke="#e01a1a" stroke-width="2.2" fill="none"/>
<path d="M651.4 162.9L646.4 170L652.9 175.4" stroke="#e01a1a" stroke-width="2.2" fill="none"/>
<path d="M476.8 447.3V439.2L504 455.5V448" stroke="#f0f040" stroke-width="2.2" fill="none"/>
<text x="195" y="150.5" font-size="14" font-weight="bold" fill="#ffff00" textLength="26" lengthAdjust="spacingAndGlyphs" transform="rotate(7.5 195 150.5)">SLOPE</text>
<text x="761" y="153" font-size="14" font-weight="bold" fill="#ffff00" textLength="26" lengthAdjust="spacingAndGlyphs" transform="rotate(-7.5 761 153)">SLOPE</text>
<text x="495.7" y="150" font-size="10" fill="#eeea70" textLength="17" lengthAdjust="spacingAndGlyphs">215</text>
<text x="389" y="375.2" font-size="10" fill="#ffff00" textLength="15.4" lengthAdjust="spacingAndGlyphs">500</text>
<text x="577.3" y="375.2" font-size="10" fill="#ffff00" textLength="15.4" lengthAdjust="spacingAndGlyphs">500</text>
<text x="529.3" y="168" font-size="9.5" font-weight="bold" fill="#ffff00" textLength="17.7" lengthAdjust="spacingAndGlyphs">+0.125</text>
<text x="529.3" y="182" font-size="9.5" font-weight="bold" fill="#ffff00" textLength="19.3" lengthAdjust="spacingAndGlyphs">(OR12)</text>
<path d="M517.9 180.7H526L521.95 187.9Z" fill="#ffff00"/><path d="M521.7 181V170H553.6" stroke="#ffff00" stroke-width="1" fill="none"/>
<text x="906.3" y="195.7" font-size="10" fill="#f0f060" textLength="14.9" lengthAdjust="spacingAndGlyphs" transform="rotate(-90 906.3 195.7)">100</text>
<text x="906.3" y="247.3" font-size="10" fill="#f0f060" textLength="10.8" lengthAdjust="spacingAndGlyphs" transform="rotate(-90 906.3 247.3)">30</text>
<text x="906.3" y="297.6" font-size="10" fill="#f0f060" textLength="14.9" lengthAdjust="spacingAndGlyphs" transform="rotate(-90 906.3 297.6)">100</text>
<text x="651.4" y="220.7" font-size="10" font-weight="bold" fill="#f4f040" textLength="9.7" lengthAdjust="spacingAndGlyphs" transform="rotate(-90 651.4 220.7)">80</text>
<text x="651.2" y="266.7" font-size="10" font-weight="bold" fill="#f4f040" textLength="9.7" lengthAdjust="spacingAndGlyphs" transform="rotate(-90 651.2 266.7)">30</text>
<text x="651.2" y="304.2" font-size="10" font-weight="bold" fill="#f4f040" textLength="8.6" lengthAdjust="spacingAndGlyphs" transform="rotate(-90 651.2 304.2)">80</text>
<text x="463.3" y="283.5" font-size="10" font-weight="bold" fill="#f4f080" textLength="12.5" lengthAdjust="spacingAndGlyphs" transform="rotate(-90 463.3 283.5)">50</text>
<rect x="248.2" y="16.4" width="53.2" height="17.2" fill="#1c0606"/>
<path d="M240.7 16.4H308.9M240.7 33.6H308.9M248.2 8.9V41.1M301.4 8.9V41.1" stroke="#70d4dc" stroke-width="1.25" fill="none"/>
<text x="254.0" y="29.2" textLength="43.7" lengthAdjust="spacingAndGlyphs" font-size="11.5" fill="#ffff00" stroke="#ffff00" stroke-width="0.35">CONCRETE</text>
<rect x="200.6" y="57.7" width="100.7" height="17.2" fill="#1c0606"/>
<path d="M193.1 57.7H308.8M193.1 74.9H308.8M200.6 50.2V82.4M301.3 50.2V82.4" stroke="#70d4dc" stroke-width="1.25" fill="none"/>
<text x="203.7" y="70.5" textLength="94.5" lengthAdjust="spacingAndGlyphs" font-size="11.5" fill="#ffff00" stroke="#ffff00" stroke-width="0.35">300MM THK. SAND STONE</text>
<rect x="679.9" y="16.4" width="53.2" height="17.2" fill="#1c0606"/>
<path d="M672.4 16.4H740.6M672.4 33.6H740.6M679.9 8.9V41.1M733.0999999999999 8.9V41.1" stroke="#70d4dc" stroke-width="1.25" fill="none"/>
<text x="683.6" y="29.2" textLength="43.7" lengthAdjust="spacingAndGlyphs" font-size="11.5" fill="#ffff00" stroke="#ffff00" stroke-width="0.35">CONCRETE</text>
<rect x="680.0" y="57.7" width="100.7" height="17.2" fill="#1c0606"/>
<path d="M672.5 57.7H788.2M672.5 74.9H788.2M680.0 50.2V82.4M780.6999999999999 50.2V82.4" stroke="#70d4dc" stroke-width="1.25" fill="none"/>
<text x="683.1" y="70.5" textLength="94.5" lengthAdjust="spacingAndGlyphs" font-size="11.5" fill="#ffff00" stroke="#ffff00" stroke-width="0.35">300MM THK. SAND STONE</text>
<rect x="463.9" y="48.6" width="53.3" height="17.0" fill="#1c0606"/>
<path d="M456.4 48.6H524.7M456.4 65.6H524.7M463.9 41.1V73.1M517.2 41.1V73.1" stroke="#70d4dc" stroke-width="1.25" fill="none"/>
<text x="474.8" y="61.3" textLength="32.9" lengthAdjust="spacingAndGlyphs" font-size="11.5" fill="#ffff00" stroke="#ffff00" stroke-width="0.35">GRAVEL</text>
<path d="M301.4 25H345.6V231M301.3 66.3H345.6M679.9 25H635.7V231M680.0 66.3H635.7M490.3 65.6V199.5" stroke="#d6fafa" stroke-width="3.2" fill="none"/>
<path d="M301.4 25H345.6V231M301.3 66.3H345.6M679.9 25H635.7V231M680.0 66.3H635.7M490.3 65.6V199.5" stroke="#98e0e2" stroke-width="1.2" fill="none"/>
<rect x="137.6" y="467.8" width="111.8" height="17.2" fill="#1c0606"/>
<path d="M130.1 467.8H256.9M130.1 485.0H256.9M137.6 460.3V492.5M249.4 460.3V492.5" stroke="#70d4dc" stroke-width="1.25" fill="none"/>
<text x="140.6" y="480.6" textLength="105.8" lengthAdjust="spacingAndGlyphs" font-size="11.5" fill="#ffff00" stroke="#ffff00" stroke-width="0.35">1:3 SAND CEMENT MORTAR</text>
<rect x="731.9" y="467.8" width="111.8" height="17.2" fill="#1c0606"/>
<path d="M724.4 467.8H851.2M724.4 485.0H851.2M731.9 460.3V492.5M843.6999999999999 460.3V492.5" stroke="#70d4dc" stroke-width="1.25" fill="none"/>
<text x="734.9" y="480.6" textLength="105.8" lengthAdjust="spacingAndGlyphs" font-size="11.5" fill="#ffff00" stroke="#ffff00" stroke-width="0.35">1:3 SAND CEMENT MORTAR</text>
<path d="M249.4 476.4H293M731.9 476.4H688.3" stroke="#d6fafa" stroke-width="3.2"/>
<path d="M249.4 476.4H293M731.9 476.4H688.3" stroke="#98e0e2" stroke-width="1.2"/>
<rect x="115.8" y="509.5" width="133.6" height="17.2" fill="#1c0606"/>
<path d="M108.3 509.5H256.9M108.3 526.7H256.9M115.8 502.0V534.2M249.4 502.0V534.2" stroke="#70d4dc" stroke-width="1.25" fill="none"/>
<text x="118.8" y="522.3" textLength="127.6" lengthAdjust="spacingAndGlyphs" font-size="11.5" fill="#ffff00" stroke="#ffff00" stroke-width="0.35">ONE LAYER OF TYPAR / TERRAM</text>
<rect x="731.9" y="509.5" width="133.6" height="17.2" fill="#1c0606"/>
<path d="M724.4 509.5H873.0M724.4 526.7H873.0M731.9 502.0V534.2M865.5 502.0V534.2" stroke="#70d4dc" stroke-width="1.25" fill="none"/>
<text x="734.9" y="522.3" textLength="127.6" lengthAdjust="spacingAndGlyphs" font-size="11.5" fill="#ffff00" stroke="#ffff00" stroke-width="0.35">ONE LAYER OF TYPAR / TERRAM</text>
<path d="M249.4 518.1H293M731.9 518.1H688.3" stroke="#d6fafa" stroke-width="3.2"/>
<path d="M249.4 518.1H293M731.9 518.1H688.3" stroke="#98e0e2" stroke-width="1.2"/>
<rect x="48.7" y="550.4" width="200.7" height="17.2" fill="#1c0606"/>
<path d="M41.2 550.4H256.9M41.2 567.6H256.9M48.7 542.9V575.1M249.4 542.9V575.1" stroke="#70d4dc" stroke-width="1.25" fill="none"/>
<text x="51.7" y="563.2" textLength="194.7" lengthAdjust="spacingAndGlyphs" font-size="11.5" fill="#ffff00" stroke="#ffff00" stroke-width="0.35">50MM THK EXTRUDED POLYSTYRENE INSULATION</text>
<rect x="731.9" y="550.4" width="200.7" height="17.2" fill="#1c0606"/>
<path d="M724.4 550.4H940.1M724.4 567.6H940.1M731.9 542.9V575.1M932.5999999999999 542.9V575.1" stroke="#70d4dc" stroke-width="1.25" fill="none"/>
<text x="734.9" y="563.2" textLength="194.7" lengthAdjust="spacingAndGlyphs" font-size="11.5" fill="#ffff00" stroke="#ffff00" stroke-width="0.35">50MM THK EXTRUDED POLYSTYRENE INSULATION</text>
<path d="M249.4 559.0H293M731.9 559.0H688.3" stroke="#d6fafa" stroke-width="3.2"/>
<path d="M249.4 559.0H293M731.9 559.0H688.3" stroke="#98e0e2" stroke-width="1.2"/>
<rect x="74.6" y="591.9" width="174.8" height="17.2" fill="#1c0606"/>
<path d="M67.1 591.9H256.9M67.1 609.1H256.9M74.6 584.4V616.6M249.4 584.4V616.6" stroke="#70d4dc" stroke-width="1.25" fill="none"/>
<text x="77.6" y="604.7" textLength="168.8" lengthAdjust="spacingAndGlyphs" font-size="11.5" fill="#ffff00" stroke="#ffff00" stroke-width="0.35">PRIMER + MEMBRANE + POLYTHENE SHEET</text>
<rect x="731.9" y="591.9" width="174.8" height="17.2" fill="#1c0606"/>
<path d="M724.4 591.9H914.2M724.4 609.1H914.2M731.9 584.4V616.6M906.6999999999999 584.4V616.6" stroke="#70d4dc" stroke-width="1.25" fill="none"/>
<text x="734.9" y="604.7" textLength="168.8" lengthAdjust="spacingAndGlyphs" font-size="11.5" fill="#ffff00" stroke="#ffff00" stroke-width="0.35">PRIMER + MEMBRANE + POLYTHENE SHEET</text>
<path d="M249.4 600.5H293M731.9 600.5H688.3" stroke="#d6fafa" stroke-width="3.2"/>
<path d="M249.4 600.5H293M731.9 600.5H688.3" stroke="#98e0e2" stroke-width="1.2"/>
<rect x="151.8" y="633.0" width="97.6" height="17.2" fill="#1c0606"/>
<path d="M144.3 633.0H256.9M144.3 650.2H256.9M151.8 625.5V657.7M249.4 625.5V657.7" stroke="#70d4dc" stroke-width="1.25" fill="none"/>
<text x="154.8" y="645.8" textLength="91.6" lengthAdjust="spacingAndGlyphs" font-size="11.5" fill="#ffff00" stroke="#ffff00" stroke-width="0.35">LIGHT WEIGHT SCREED</text>
<rect x="731.9" y="633.0" width="97.6" height="17.2" fill="#1c0606"/>
<path d="M724.4 633.0H837.0M724.4 650.2H837.0M731.9 625.5V657.7M829.5 625.5V657.7" stroke="#70d4dc" stroke-width="1.25" fill="none"/>
<text x="734.9" y="645.8" textLength="91.6" lengthAdjust="spacingAndGlyphs" font-size="11.5" fill="#ffff00" stroke="#ffff00" stroke-width="0.35">LIGHT WEIGHT SCREED</text>
<path d="M249.4 641.6H293M731.9 641.6H688.3" stroke="#d6fafa" stroke-width="3.2"/>
<path d="M249.4 641.6H293M731.9 641.6H688.3" stroke="#98e0e2" stroke-width="1.2"/>
<rect x="163.3" y="674.5" width="86.1" height="17.2" fill="#1c0606"/>
<path d="M155.8 674.5H256.9M155.8 691.7H256.9M163.3 667.0V699.2M249.4 667.0V699.2" stroke="#70d4dc" stroke-width="1.25" fill="none"/>
<text x="166.3" y="687.3" textLength="80.1" lengthAdjust="spacingAndGlyphs" font-size="11.5" fill="#ffff00" stroke="#ffff00" stroke-width="0.35">STRUCTURAL SLAB</text>
<rect x="731.9" y="674.5" width="86.1" height="17.2" fill="#1c0606"/>
<path d="M724.4 674.5H825.5M724.4 691.7H825.5M731.9 667.0V699.2M818.0 667.0V699.2" stroke="#70d4dc" stroke-width="1.25" fill="none"/>
<text x="734.9" y="687.3" textLength="80.1" lengthAdjust="spacingAndGlyphs" font-size="11.5" fill="#ffff00" stroke="#ffff00" stroke-width="0.35">STRUCTURAL SLAB</text>
<path d="M249.4 683.1H293M731.9 683.1H688.3" stroke="#d6fafa" stroke-width="3.2"/>
<path d="M249.4 683.1H293M731.9 683.1H688.3" stroke="#98e0e2" stroke-width="1.2"/>
<path d="M292.9 214V700M688.4 214V700M415.8 282V510.3M565.5 282V510.3M490.3 416V559.3" stroke="#d6fafa" stroke-width="3.2"/>
<path d="M292.9 214V700M688.4 214V700M415.8 282V510.3M565.5 282V510.3M490.3 416V559.3" stroke="#98e0e2" stroke-width="1.2"/>
<rect x="353.1" y="510.3" width="125.3" height="16.2" fill="#1c0606"/>
<path d="M345.6 510.3H485.9M345.6 526.5H485.9M353.1 502.8V534.0M478.4 502.8V534.0" stroke="#70d4dc" stroke-width="1.25" fill="none"/>
<text x="356.1" y="522.6" textLength="119.3" lengthAdjust="spacingAndGlyphs" font-size="11.5" fill="#ffff00" stroke="#ffff00" stroke-width="0.35">WATER PROOFING MEMBRANE</text>
<rect x="502.9" y="510.3" width="125.3" height="16.2" fill="#1c0606"/>
<path d="M495.4 510.3H635.7M495.4 526.5H635.7M502.9 502.8V534.0M628.1999999999999 502.8V534.0" stroke="#70d4dc" stroke-width="1.25" fill="none"/>
<text x="505.9" y="522.6" textLength="119.3" lengthAdjust="spacingAndGlyphs" font-size="11.5" fill="#ffff00" stroke="#ffff00" stroke-width="0.35">WATER PROOFING MEMBRANE</text>
<rect x="390.4" y="559.3" width="199.6" height="77.8" fill="#1c0606"/>
<path d="M382.9 559.3H597.5M382.9 637.1H597.5M382.9 577.3H597.5M382.9 595.1H597.5M390.4 551.8V644.6M590.0 551.8V644.6M433.3 577.3V595.1" stroke="#70d4dc" stroke-width="1.25" fill="none"/>
<text x="441" y="573.3" textLength="96.8" lengthAdjust="spacingAndGlyphs" font-size="11.5" fill="#ffff00" stroke="#ffff00" stroke-width="0.35">DOME TYPE ROOF DRAIN</text>
<text x="395.6" y="590.0" textLength="28.8" lengthAdjust="spacingAndGlyphs" font-size="11.5" fill="#ffff00" stroke="#ffff00" stroke-width="0.35">MODEL</text>
<text x="438.2" y="590.0" textLength="38.5" lengthAdjust="spacingAndGlyphs" font-size="11.5" fill="#ffff00" stroke="#ffff00" stroke-width="0.35">IDRD - 4EF</text>
<text x="396" y="608.2" textLength="187.3" lengthAdjust="spacingAndGlyphs" font-size="11.5" fill="#ffff00" stroke="#ffff00" stroke-width="0.35">CAST IRON BODY AND CLAMPING COLLAR WITH</text>
<text x="396" y="620.0" textLength="72.9" lengthAdjust="spacingAndGlyphs" font-size="11.5" fill="#ffff00" stroke="#ffff00" stroke-width="0.35">ALUMINUM DOME.</text>
<text x="396" y="632.7" textLength="190.7" lengthAdjust="spacingAndGlyphs" font-size="11.5" fill="#ffff00" stroke="#ffff00" stroke-width="0.35">[ PUSH- FIT RUBBER-  GASKET PIPE CONNECTION ]</text>
<circle cx="412.7" cy="151.3" r="3.0" fill="#e01a1a"/>
<circle cx="567.9" cy="151.3" r="3.0" fill="#e01a1a"/>
<circle cx="345.5" cy="181.5" r="3.0" fill="#e01a1a"/>
<circle cx="345.5" cy="231" r="3.0" fill="#e01a1a"/>
<circle cx="292.9" cy="214.3" r="3.0" fill="#e01a1a"/>
<circle cx="292.9" cy="236" r="3.0" fill="#e01a1a"/>
<circle cx="292.9" cy="255.4" r="3.0" fill="#e01a1a"/>
<circle cx="292.9" cy="272.6" r="3.0" fill="#e01a1a"/>
<circle cx="292.9" cy="297.1" r="3.0" fill="#e01a1a"/>
<circle cx="292.9" cy="357.8" r="3.0" fill="#e01a1a"/>
<circle cx="635.6" cy="181.5" r="3.0" fill="#e01a1a"/>
<circle cx="635.6" cy="231" r="3.0" fill="#e01a1a"/>
<circle cx="688.4" cy="214.3" r="3.0" fill="#e01a1a"/>
<circle cx="688.4" cy="236" r="3.0" fill="#e01a1a"/>
<circle cx="688.4" cy="255.4" r="3.0" fill="#e01a1a"/>
<circle cx="688.4" cy="272.6" r="3.0" fill="#e01a1a"/>
<circle cx="688.4" cy="297.1" r="3.0" fill="#e01a1a"/>
<circle cx="688.4" cy="357.8" r="3.0" fill="#e01a1a"/>
<circle cx="302.3" cy="376.5" r="3.0" fill="#e01a1a"/>
<circle cx="678.9" cy="376.5" r="3.0" fill="#e01a1a"/>
<circle cx="490.6" cy="376.2" r="3.0" fill="#e01a1a"/>
<circle cx="490.6" cy="416.3" r="3.0" fill="#e01a1a"/>
<circle cx="464.9" cy="353.2" r="3.0" fill="#e01a1a"/>
<circle cx="464.6" cy="205.7" r="3.0" fill="#e01a1a"/>
<circle cx="490.4" cy="199.5" r="3.0" fill="#e01a1a"/>
<circle cx="415.2" cy="282.2" r="3.0" fill="#e01a1a"/>
<circle cx="566.0999999999999" cy="282.2" r="3.0" fill="#e01a1a"/>
<circle cx="653.5" cy="188.1" r="3.0" fill="#e01a1a"/>
<circle cx="653.5" cy="243.6" r="3.0" fill="#e01a1a"/>
<circle cx="653.5" cy="281.7" r="3.0" fill="#e01a1a"/>
<circle cx="653.5" cy="317" r="3.0" fill="#e01a1a"/>
<circle cx="908" cy="151" r="3.0" fill="#e01a1a"/>
<circle cx="908" cy="223.5" r="3.0" fill="#e01a1a"/>
<circle cx="908" cy="260" r="3.0" fill="#e01a1a"/>
<circle cx="908" cy="318" r="3.0" fill="#e01a1a"/>
<rect x="0" y="0" width="990" height="2" fill="#3d4451"/>
<rect x="0" y="2" width="990" height="2" fill="#7d8383"/>
<rect x="0" y="4" width="990" height="2" fill="#544f4f"/>
<rect x="0" y="4" width="2" height="696" fill="#5a5454"/>
<rect x="987" y="4" width="2" height="696" fill="#4f4747"/>
<rect x="989" y="2" width="1" height="698" fill="#8a8a8a"/>
</svg></body></html>
